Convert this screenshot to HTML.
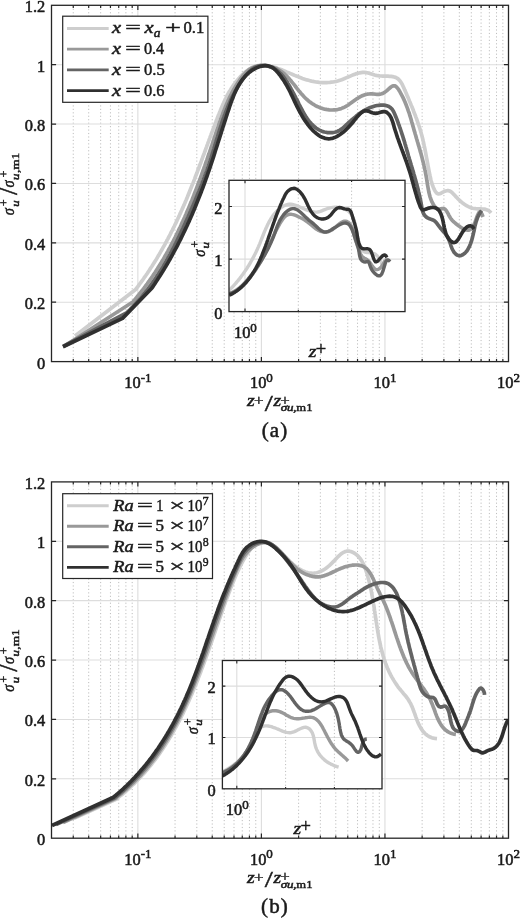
<!DOCTYPE html>
<html><head><meta charset="utf-8"><title>Figure</title>
<style>
html,body{margin:0;padding:0;background:#fff}
body{width:520px;height:923px;overflow:hidden}
svg{display:block}
text{font-family:"Liberation Serif","DejaVu Serif",serif;fill:#1a1a1a}
text{stroke:#1a1a1a;stroke-width:0.45px}
text.it{stroke-width:0.5px}
.tk{stroke-width:0.55px}
.tk{font-size:16.4px}
.L{font-size:17px}
.S{font-size:12px}
.lg{font-size:16px}
.cap{font-size:21px;letter-spacing:1.1px;stroke-width:0.5px}
.it{font-style:italic}
.sub{font-size:12px}
</style></head><body>
<svg width="520" height="923" viewBox="0 0 520 923">
<rect width="520" height="923" fill="#fff"/>
<line x1="73.26" y1="5.3" x2="73.26" y2="361.6" stroke="#bdbdbd" stroke-width="1" stroke-dasharray="1.15 2.3"/>
<line x1="88.69" y1="5.3" x2="88.69" y2="361.6" stroke="#bdbdbd" stroke-width="1" stroke-dasharray="1.15 2.3"/>
<line x1="100.66" y1="5.3" x2="100.66" y2="361.6" stroke="#bdbdbd" stroke-width="1" stroke-dasharray="1.15 2.3"/>
<line x1="110.45" y1="5.3" x2="110.45" y2="361.6" stroke="#bdbdbd" stroke-width="1" stroke-dasharray="1.15 2.3"/>
<line x1="118.72" y1="5.3" x2="118.72" y2="361.6" stroke="#bdbdbd" stroke-width="1" stroke-dasharray="1.15 2.3"/>
<line x1="125.88" y1="5.3" x2="125.88" y2="361.6" stroke="#bdbdbd" stroke-width="1" stroke-dasharray="1.15 2.3"/>
<line x1="132.2" y1="5.3" x2="132.2" y2="361.6" stroke="#bdbdbd" stroke-width="1" stroke-dasharray="1.15 2.3"/>
<line x1="175.05" y1="5.3" x2="175.05" y2="361.6" stroke="#bdbdbd" stroke-width="1" stroke-dasharray="1.15 2.3"/>
<line x1="196.8" y1="5.3" x2="196.8" y2="361.6" stroke="#bdbdbd" stroke-width="1" stroke-dasharray="1.15 2.3"/>
<line x1="212.24" y1="5.3" x2="212.24" y2="361.6" stroke="#bdbdbd" stroke-width="1" stroke-dasharray="1.15 2.3"/>
<line x1="224.21" y1="5.3" x2="224.21" y2="361.6" stroke="#bdbdbd" stroke-width="1" stroke-dasharray="1.15 2.3"/>
<line x1="234" y1="5.3" x2="234" y2="361.6" stroke="#bdbdbd" stroke-width="1" stroke-dasharray="1.15 2.3"/>
<line x1="242.27" y1="5.3" x2="242.27" y2="361.6" stroke="#bdbdbd" stroke-width="1" stroke-dasharray="1.15 2.3"/>
<line x1="249.43" y1="5.3" x2="249.43" y2="361.6" stroke="#bdbdbd" stroke-width="1" stroke-dasharray="1.15 2.3"/>
<line x1="255.75" y1="5.3" x2="255.75" y2="361.6" stroke="#bdbdbd" stroke-width="1" stroke-dasharray="1.15 2.3"/>
<line x1="298.6" y1="5.3" x2="298.6" y2="361.6" stroke="#bdbdbd" stroke-width="1" stroke-dasharray="1.15 2.3"/>
<line x1="320.35" y1="5.3" x2="320.35" y2="361.6" stroke="#bdbdbd" stroke-width="1" stroke-dasharray="1.15 2.3"/>
<line x1="335.79" y1="5.3" x2="335.79" y2="361.6" stroke="#bdbdbd" stroke-width="1" stroke-dasharray="1.15 2.3"/>
<line x1="347.76" y1="5.3" x2="347.76" y2="361.6" stroke="#bdbdbd" stroke-width="1" stroke-dasharray="1.15 2.3"/>
<line x1="357.54" y1="5.3" x2="357.54" y2="361.6" stroke="#bdbdbd" stroke-width="1" stroke-dasharray="1.15 2.3"/>
<line x1="365.81" y1="5.3" x2="365.81" y2="361.6" stroke="#bdbdbd" stroke-width="1" stroke-dasharray="1.15 2.3"/>
<line x1="372.98" y1="5.3" x2="372.98" y2="361.6" stroke="#bdbdbd" stroke-width="1" stroke-dasharray="1.15 2.3"/>
<line x1="379.3" y1="5.3" x2="379.3" y2="361.6" stroke="#bdbdbd" stroke-width="1" stroke-dasharray="1.15 2.3"/>
<line x1="422.14" y1="5.3" x2="422.14" y2="361.6" stroke="#bdbdbd" stroke-width="1" stroke-dasharray="1.15 2.3"/>
<line x1="443.9" y1="5.3" x2="443.9" y2="361.6" stroke="#bdbdbd" stroke-width="1" stroke-dasharray="1.15 2.3"/>
<line x1="459.34" y1="5.3" x2="459.34" y2="361.6" stroke="#bdbdbd" stroke-width="1" stroke-dasharray="1.15 2.3"/>
<line x1="471.31" y1="5.3" x2="471.31" y2="361.6" stroke="#bdbdbd" stroke-width="1" stroke-dasharray="1.15 2.3"/>
<line x1="481.09" y1="5.3" x2="481.09" y2="361.6" stroke="#bdbdbd" stroke-width="1" stroke-dasharray="1.15 2.3"/>
<line x1="489.36" y1="5.3" x2="489.36" y2="361.6" stroke="#bdbdbd" stroke-width="1" stroke-dasharray="1.15 2.3"/>
<line x1="496.53" y1="5.3" x2="496.53" y2="361.6" stroke="#bdbdbd" stroke-width="1" stroke-dasharray="1.15 2.3"/>
<line x1="502.85" y1="5.3" x2="502.85" y2="361.6" stroke="#bdbdbd" stroke-width="1" stroke-dasharray="1.15 2.3"/>
<line x1="137.86" y1="5.3" x2="137.86" y2="361.6" stroke="#dddddd" stroke-width="1.1"/>
<line x1="261.4" y1="5.3" x2="261.4" y2="361.6" stroke="#dddddd" stroke-width="1.1"/>
<line x1="384.95" y1="5.3" x2="384.95" y2="361.6" stroke="#dddddd" stroke-width="1.1"/>
<line x1="51.5" y1="302.22" x2="508.5" y2="302.22" stroke="#dddddd" stroke-width="1.1"/>
<line x1="51.5" y1="242.83" x2="508.5" y2="242.83" stroke="#dddddd" stroke-width="1.1"/>
<line x1="51.5" y1="183.45" x2="508.5" y2="183.45" stroke="#dddddd" stroke-width="1.1"/>
<line x1="51.5" y1="124.07" x2="508.5" y2="124.07" stroke="#dddddd" stroke-width="1.1"/>
<line x1="51.5" y1="64.68" x2="508.5" y2="64.68" stroke="#dddddd" stroke-width="1.1"/>
<clipPath id="clipa"><rect x="51.5" y="5.3" width="457" height="356.3"/></clipPath>
<g clip-path="url(#clipa)">
<path d="M75 336L136.3 289L136.0 288.9L137.0 287.6L138.0 286.3L139.0 285.0L139.9 283.7L140.9 282.4L141.8 281.1L142.8 279.8L143.7 278.5L144.6 277.1L145.6 275.8L146.5 274.5L147.4 273.2L148.3 271.8L149.2 270.5L150.0 269.1L150.9 267.8L151.8 266.5L152.7 265.1L153.5 263.7L154.4 262.4L155.2 261.0L156.1 259.7L156.9 258.3L157.7 256.9L158.5 255.5L159.3 254.2L160.1 252.8L160.9 251.4L161.7 250.0L162.5 248.6L163.3 247.2L164.1 245.8L164.9 244.4L165.6 243.0L166.4 241.6L167.1 240.2L167.9 238.8L168.6 237.4L169.4 236.0L170.1 234.6L170.8 233.1L171.5 231.7L172.3 230.3L173.0 228.8L173.7 227.4L174.4 226.0L175.1 224.5L175.8 223.1L176.5 221.7L177.1 220.2L177.8 218.8L178.5 217.3L179.2 215.9L179.8 214.4L180.5 212.9L181.1 211.5L181.8 210.0L182.4 208.6L183.1 207.1L183.7 205.6L184.4 204.1L185.0 202.7L185.6 201.2L186.3 199.7L186.9 198.2L187.5 196.8L188.1 195.3L188.7 193.8L189.3 192.3L189.9 190.8L190.5 189.3L191.1 187.8L191.7 186.3L192.3 184.8L192.9 183.4L193.5 181.9L194.1 180.4L194.7 178.8L195.2 177.3L195.8 175.8L196.4 174.3L197.0 172.8L197.5 171.3L198.1 169.8L198.7 168.3L199.2 166.8L199.8 165.3L200.4 163.8L200.9 162.3L201.5 160.7L202.0 159.2L202.6 157.7L203.1 156.2L203.7 154.7L204.3 153.2L204.8 151.7L205.4 150.2L205.9 148.6L206.5 147.1L207.0 145.6L207.6 144.1L208.1 142.6L208.7 141.1L209.2 139.6L209.8 138.1L210.3 136.6L210.9 135.1L211.4 133.6L212.0 132.1L212.6 130.6L213.1 129.1L213.7 127.6L214.3 126.2L214.8 124.7L215.4 123.2L216.0 121.7L216.5 120.2L217.1 118.8L217.7 117.3L218.2 115.8L218.8 114.4L219.4 112.9L220.0 111.5L220.6 110.0L221.2 108.6L221.8 107.1L222.4 105.7L223.0 104.3L223.7 102.8L224.3 101.4L225.0 100.0L225.7 98.6L226.4 97.1L227.1 95.7L227.8 94.3L228.6 92.9L229.4 91.5L230.3 90.2L231.1 88.8L232.0 87.4L232.9 86.0L233.9 84.6L234.9 83.3L235.9 81.9L237.0 80.6L238.2 79.2L239.3 77.9L240.5 76.6L241.8 75.3L243.0 74.0L244.3 72.8L245.7 71.7L247.0 70.7L248.4 69.7L249.7 68.8L251.1 68.0L252.6 67.3L254.0 66.8L255.4 66.3L256.8 65.9L258.3 65.6L259.7 65.4L261.2 65.3L262.7 65.3L264.2 65.3L265.6 65.4L267.1 65.6L268.6 65.9L270.1 66.2L271.7 66.5L273.2 66.9L274.7 67.4L276.2 67.8L277.8 68.4L279.3 68.9L280.8 69.5L282.4 70.1L283.9 70.8L285.4 71.4L287.0 72.1L288.5 72.7L290.1 73.4L291.6 74.1L293.2 74.7L294.7 75.4L296.2 76.0L297.8 76.6L299.3 77.2L300.8 77.8L302.4 78.4L303.9 78.9L305.4 79.4L307.0 79.9L308.5 80.3L310.0 80.7L311.5 81.1L313.1 81.4L314.6 81.7L316.1 82.0L317.6 82.2L319.2 82.4L320.7 82.5L322.2 82.6L323.7 82.7L325.3 82.7L326.8 82.6L328.4 82.5L329.9 82.4L331.4 82.2L333.0 82.0L334.5 81.7L336.1 81.4L337.7 81.0L339.2 80.5L340.8 80.0L342.4 79.4L344.0 78.8L345.5 78.1L347.1 77.4L348.7 76.8L350.3 76.1L351.9 75.4L353.4 74.8L355.0 74.2L356.6 73.6L358.1 73.2L359.7 72.8L361.2 72.6L362.7 72.4L364.2 72.4L365.7 72.5L367.2 72.8L368.7 73.1L370.1 73.6L371.6 74.0L373.1 74.5L374.6 75.0L376.2 75.4L377.8 75.7L379.5 75.9L381.1 76.0L382.8 76.1L384.5 76.1L386.2 76.1L387.9 76.2L389.6 76.3L391.2 76.4L392.7 76.6L394.2 77.0L395.6 77.4L396.9 78.1L398.1 78.9L399.1 79.9L400.1 81.0L401.0 82.3L401.8 83.7L402.6 85.2L403.3 86.7L404.0 88.3L404.7 89.9L405.4 91.4L406.1 93.0L406.7 94.6L407.4 96.1L408.1 97.6L408.7 99.2L409.3 100.7L410.0 102.2L410.6 103.7L411.2 105.2L411.9 106.7L412.5 108.2L413.1 109.7L413.6 111.2L414.2 112.7L414.8 114.2L415.4 115.7L415.9 117.1L416.5 118.6L417.0 120.1L417.5 121.6L418.0 123.1L418.5 124.6L419.0 126.0L419.5 127.5L420.0 129.0L420.4 130.5L420.9 132.0L421.3 133.6L421.7 135.1L422.1 136.6L422.5 138.1L422.9 139.7L423.2 141.2L423.6 142.8L423.9 144.3L424.2 145.9L424.6 147.5L424.9 149.1L425.2 150.6L425.5 152.2L425.8 153.8L426.1 155.4L426.4 157.0L426.7 158.6L427.0 160.2L427.3 161.8L427.6 163.4L427.9 165.0L428.2 166.6L428.5 168.2L428.8 169.8L429.1 171.4L429.4 173.0L429.8 174.6L430.1 176.2L430.5 177.8L430.8 179.4L431.2 181.0L431.7 182.6L432.1 184.2L432.7 185.7L433.2 187.2L433.9 188.7L434.6 190.1L435.4 191.5L436.3 192.7L437.3 193.5L438.5 193.9L439.7 193.7L441.1 193.2L442.5 192.4L444.0 191.6L445.6 191.0L447.1 190.7L448.6 190.7L450.0 191.1L451.2 191.8L452.4 192.9L453.5 194.1L454.7 195.3L455.8 196.6L457.0 197.8L458.1 199.0L459.3 200.1L460.5 201.2L461.8 202.3L463.0 203.3L464.3 204.2L465.6 205.1L467.0 205.9L468.4 206.6L469.8 207.2L471.2 207.8L472.7 208.2L474.3 208.5L475.9 208.7L477.5 208.8L479.2 208.9L480.8 208.9L482.5 209.0L484.1 209.1L485.7 209.4L487.2 209.9L488.6 210.6L489.9 211.6L491.0 213.0" fill="none" stroke="#cecece" stroke-width="3.7" stroke-linejoin="round" stroke-linecap="butt"/>
<path d="M66 345L132 302.5L132.2 302.7L133.3 301.5L134.3 300.2L135.4 299.0L136.4 297.8L137.4 296.5L138.4 295.3L139.4 294.0L140.4 292.8L141.4 291.5L142.4 290.3L143.4 289.0L144.3 287.7L145.3 286.4L146.2 285.1L147.2 283.8L148.1 282.5L149.1 281.2L150.0 279.9L150.9 278.6L151.8 277.3L152.7 276.0L153.6 274.6L154.5 273.3L155.4 272.0L156.2 270.6L157.1 269.3L157.9 267.9L158.8 266.6L159.6 265.2L160.5 263.8L161.3 262.5L162.1 261.1L163.0 259.7L163.8 258.3L164.6 256.9L165.4 255.5L166.2 254.1L167.0 252.7L167.8 251.3L168.5 249.9L169.3 248.5L170.1 247.1L170.8 245.7L171.6 244.3L172.3 242.8L173.1 241.4L173.8 240.0L174.5 238.6L175.3 237.1L176.0 235.7L176.7 234.2L177.4 232.8L178.1 231.4L178.8 229.9L179.5 228.4L180.2 227.0L180.9 225.5L181.5 224.1L182.2 222.6L182.9 221.1L183.5 219.7L184.2 218.2L184.9 216.7L185.5 215.3L186.2 213.8L186.8 212.3L187.4 210.8L188.1 209.4L188.7 207.9L189.3 206.4L189.9 204.9L190.5 203.4L191.2 201.9L191.8 200.5L192.4 199.0L193.0 197.5L193.6 196.0L194.1 194.5L194.7 193.0L195.3 191.5L195.9 190.0L196.5 188.5L197.0 187.0L197.6 185.5L198.2 184.0L198.7 182.5L199.3 181.0L199.9 179.5L200.4 178.0L201.0 176.5L201.5 175.0L202.1 173.5L202.6 172.0L203.1 170.4L203.7 168.9L204.2 167.4L204.8 165.9L205.3 164.4L205.8 162.9L206.3 161.4L206.9 159.9L207.4 158.3L207.9 156.8L208.4 155.3L209.0 153.8L209.5 152.3L210.0 150.8L210.5 149.3L211.0 147.7L211.5 146.2L212.1 144.7L212.6 143.2L213.1 141.7L213.6 140.1L214.1 138.6L214.6 137.1L215.1 135.6L215.6 134.1L216.1 132.5L216.6 131.0L217.1 129.5L217.7 128.0L218.2 126.5L218.7 124.9L219.2 123.4L219.7 121.9L220.3 120.4L220.8 118.9L221.4 117.4L221.9 115.9L222.5 114.4L223.0 112.9L223.6 111.4L224.2 109.9L224.8 108.4L225.4 106.9L226.0 105.4L226.6 104.0L227.3 102.5L227.9 101.0L228.6 99.6L229.3 98.1L230.0 96.7L230.7 95.2L231.5 93.8L232.2 92.3L233.0 90.9L233.8 89.5L234.6 88.1L235.4 86.7L236.2 85.3L237.1 83.9L238.0 82.5L238.9 81.2L239.9 79.8L240.8 78.5L241.8 77.1L242.8 75.8L243.9 74.6L245.0 73.4L246.1 72.2L247.3 71.1L248.5 70.1L249.8 69.2L251.2 68.4L252.6 67.7L254.0 67.1L255.5 66.6L257.1 66.2L258.6 66.0L260.2 65.8L261.8 65.6L263.5 65.6L265.1 65.7L266.7 65.9L268.4 66.1L270.0 66.4L271.6 66.9L273.1 67.3L274.7 67.9L276.2 68.5L277.6 69.2L279.0 70.0L280.4 70.9L281.7 71.8L282.9 72.7L284.1 73.7L285.3 74.8L286.5 75.9L287.6 77.0L288.7 78.2L289.7 79.4L290.8 80.6L291.8 81.9L292.8 83.1L293.9 84.4L294.9 85.7L295.9 87.0L296.9 88.3L297.9 89.6L298.9 90.9L300.0 92.1L301.0 93.4L302.1 94.6L303.2 95.8L304.3 97.0L305.5 98.2L306.6 99.3L307.9 100.3L309.1 101.4L310.4 102.3L311.7 103.3L313.1 104.2L314.5 105.0L315.9 105.8L317.3 106.5L318.8 107.1L320.2 107.7L321.7 108.2L323.2 108.7L324.7 109.1L326.2 109.4L327.8 109.7L329.3 109.9L330.8 110.0L332.4 110.0L333.9 109.9L335.5 109.8L337.0 109.6L338.5 109.3L340.0 108.9L341.5 108.4L343.0 107.8L344.5 107.1L345.9 106.4L347.4 105.5L348.8 104.6L350.2 103.6L351.6 102.6L353.0 101.6L354.4 100.6L355.8 99.6L357.2 98.6L358.6 97.7L360.0 96.9L361.4 96.2L362.8 95.5L364.3 95.0L365.7 94.5L367.3 94.2L368.8 94.0L370.4 93.9L372.0 93.9L373.6 94.0L375.3 94.2L376.9 94.3L378.6 94.3L380.1 94.1L381.7 93.8L383.2 93.2L384.6 92.4L385.9 91.4L387.2 90.3L388.5 89.1L389.8 88.0L391.0 87.0L392.3 86.2L393.4 85.8L394.6 85.8L395.7 86.3L396.7 87.2L397.7 88.4L398.7 89.7L399.6 91.2L400.5 92.8L401.3 94.3L402.1 95.8L402.9 97.4L403.6 98.9L404.3 100.4L405.0 102.0L405.6 103.5L406.2 105.0L406.8 106.6L407.4 108.1L407.9 109.6L408.4 111.1L409.0 112.7L409.5 114.2L409.9 115.7L410.4 117.2L410.9 118.8L411.3 120.3L411.7 121.8L412.2 123.3L412.6 124.9L413.0 126.4L413.5 127.9L413.9 129.4L414.3 130.9L414.8 132.4L415.2 134.0L415.7 135.5L416.1 137.0L416.5 138.5L417.0 140.0L417.4 141.5L417.9 143.0L418.3 144.6L418.8 146.1L419.2 147.6L419.7 149.1L420.1 150.7L420.5 152.2L421.0 153.7L421.4 155.3L421.8 156.8L422.2 158.4L422.6 159.9L423.0 161.5L423.4 163.1L423.8 164.7L424.1 166.2L424.5 167.8L424.8 169.4L425.2 171.0L425.5 172.7L425.8 174.3L426.1 175.9L426.4 177.6L426.7 179.2L426.9 180.9L427.2 182.5L427.4 184.2L427.7 185.8L428.0 187.5L428.3 189.1L428.6 190.7L428.9 192.3L429.3 193.9L429.7 195.5L430.1 197.0L430.6 198.5L431.2 199.9L431.7 201.3L432.4 202.7L433.1 204.0L433.9 205.3L434.8 206.5L435.7 207.7L436.8 208.6L438.0 209.1L439.3 209.1L440.8 208.8L442.2 208.6L443.5 208.6L444.7 209.0L445.6 209.8L446.5 210.9L447.3 212.3L448.1 213.7L448.9 215.3L449.7 216.8L450.6 218.2L451.5 219.5L452.6 220.7L453.8 221.9L455.0 222.9L456.3 224.0L457.6 225.0L459.0 226.1L460.4 227.1L461.9 228.0L463.4 228.9L464.8 229.6L466.3 230.0L467.7 230.2L469.0 230.1L470.2 229.6L471.3 228.8L472.3 227.7L473.2 226.3L474.0 224.6L474.8 222.8L475.5 220.9L476.2 218.9L476.9 217.0L477.6 215.2L478.3 213.7L479.0 212.6L479.7 212.1L480.4 212.1L481.2 212.9L482.1 214.5L483.0 217.0" fill="none" stroke="#999999" stroke-width="3.7" stroke-linejoin="round" stroke-linecap="butt"/>
<path d="M63 346.5L126 313.2L126.1 313.3L127.3 312.2L128.4 311.1L129.6 310.0L130.7 308.8L131.9 307.7L133.0 306.5L134.1 305.4L135.2 304.2L136.3 303.0L137.4 301.8L138.5 300.6L139.5 299.4L140.6 298.2L141.6 297.0L142.6 295.7L143.6 294.5L144.6 293.3L145.6 292.0L146.6 290.7L147.6 289.5L148.6 288.2L149.5 286.9L150.5 285.6L151.4 284.3L152.3 283.0L153.2 281.7L154.2 280.4L155.1 279.1L156.0 277.8L156.8 276.4L157.7 275.1L158.6 273.8L159.4 272.4L160.3 271.1L161.1 269.7L162.0 268.3L162.8 267.0L163.6 265.6L164.4 264.2L165.3 262.8L166.1 261.4L166.9 260.0L167.6 258.6L168.4 257.2L169.2 255.8L170.0 254.4L170.7 253.0L171.5 251.6L172.2 250.2L173.0 248.7L173.7 247.3L174.5 245.9L175.2 244.4L175.9 243.0L176.6 241.6L177.3 240.1L178.0 238.7L178.7 237.2L179.4 235.8L180.1 234.3L180.8 232.9L181.5 231.4L182.2 229.9L182.9 228.5L183.5 227.0L184.2 225.5L184.9 224.1L185.5 222.6L186.2 221.1L186.9 219.7L187.5 218.2L188.2 216.7L188.8 215.2L189.5 213.8L190.1 212.3L190.8 210.8L191.4 209.3L192.0 207.9L192.7 206.4L193.3 204.9L193.9 203.4L194.5 202.0L195.2 200.5L195.8 199.0L196.4 197.5L197.0 196.0L197.6 194.5L198.2 193.1L198.8 191.6L199.4 190.1L200.0 188.6L200.6 187.1L201.2 185.6L201.8 184.1L202.3 182.6L202.9 181.1L203.5 179.6L204.0 178.1L204.6 176.6L205.1 175.1L205.7 173.6L206.2 172.1L206.8 170.6L207.3 169.1L207.8 167.6L208.4 166.1L208.9 164.6L209.4 163.0L209.9 161.5L210.4 160.0L210.9 158.5L211.4 157.0L211.9 155.4L212.3 153.9L212.8 152.4L213.3 150.8L213.8 149.3L214.2 147.8L214.7 146.2L215.2 144.7L215.6 143.1L216.1 141.6L216.5 140.1L217.0 138.5L217.5 137.0L217.9 135.5L218.4 133.9L218.9 132.4L219.3 130.9L219.8 129.3L220.3 127.8L220.8 126.3L221.3 124.7L221.8 123.2L222.3 121.7L222.8 120.2L223.3 118.7L223.9 117.1L224.4 115.6L225.0 114.1L225.5 112.6L226.1 111.1L226.7 109.6L227.3 108.2L227.9 106.7L228.5 105.2L229.1 103.7L229.8 102.2L230.4 100.8L231.1 99.3L231.8 97.9L232.5 96.4L233.3 95.0L234.0 93.6L234.8 92.1L235.5 90.7L236.3 89.3L237.2 87.9L238.0 86.5L238.9 85.1L239.7 83.7L240.6 82.4L241.6 81.0L242.5 79.6L243.5 78.3L244.5 77.0L245.5 75.7L246.6 74.4L247.7 73.2L248.8 72.1L250.0 71.0L251.2 70.0L252.4 69.0L253.7 68.2L255.0 67.4L256.4 66.8L257.8 66.3L259.3 65.9L260.9 65.6L262.5 65.5L264.1 65.6L265.7 65.7L267.4 66.0L269.0 66.4L270.7 66.9L272.2 67.5L273.7 68.3L275.1 69.1L276.5 70.0L277.7 70.9L279.0 72.0L280.1 73.1L281.3 74.2L282.3 75.4L283.4 76.7L284.3 78.0L285.3 79.3L286.2 80.7L287.1 82.0L287.9 83.4L288.8 84.8L289.6 86.2L290.4 87.6L291.1 88.9L291.9 90.3L292.6 91.7L293.4 93.1L294.1 94.4L294.8 95.8L295.5 97.2L296.2 98.6L297.0 100.0L297.7 101.4L298.4 102.9L299.1 104.3L299.9 105.8L300.6 107.2L301.4 108.7L302.2 110.2L303.0 111.7L303.8 113.1L304.7 114.6L305.5 116.0L306.4 117.4L307.3 118.7L308.3 120.1L309.3 121.4L310.3 122.6L311.4 123.8L312.5 124.9L313.6 126.0L314.8 127.0L316.0 128.0L317.3 128.9L318.6 129.7L320.0 130.4L321.4 131.0L322.9 131.6L324.4 132.0L326.0 132.3L327.6 132.6L329.2 132.7L330.9 132.7L332.5 132.6L334.2 132.3L335.7 132.0L337.2 131.5L338.7 130.8L340.0 130.0L341.3 129.1L342.6 128.1L343.8 127.1L345.0 126.0L346.2 124.9L347.4 123.8L348.6 122.7L349.8 121.6L351.0 120.5L352.3 119.4L353.5 118.4L354.8 117.3L356.0 116.3L357.3 115.3L358.6 114.3L359.9 113.3L361.2 112.4L362.6 111.5L363.9 110.7L365.3 109.9L366.7 109.1L368.2 108.4L369.6 107.8L371.1 107.2L372.6 106.7L374.1 106.2L375.7 105.8L377.3 105.5L378.9 105.3L380.5 105.1L382.2 105.1L383.8 105.2L385.3 105.4L386.8 105.7L388.2 106.2L389.5 106.9L390.7 107.8L391.8 108.8L392.7 110.1L393.5 111.5L394.2 112.9L394.9 114.5L395.5 116.1L396.2 117.6L396.8 119.2L397.4 120.7L398.0 122.3L398.5 123.8L399.1 125.4L399.6 126.9L400.2 128.5L400.7 130.0L401.2 131.5L401.7 133.1L402.2 134.6L402.7 136.1L403.2 137.7L403.6 139.2L404.1 140.7L404.6 142.3L405.0 143.8L405.5 145.3L405.9 146.8L406.4 148.4L406.8 149.9L407.2 151.4L407.7 152.9L408.1 154.5L408.5 156.0L409.0 157.5L409.4 159.0L409.9 160.5L410.3 162.1L410.8 163.6L411.2 165.1L411.7 166.6L412.1 168.2L412.6 169.7L413.0 171.2L413.5 172.7L413.9 174.3L414.4 175.8L414.8 177.3L415.2 178.9L415.7 180.4L416.1 182.0L416.5 183.5L416.9 185.1L417.4 186.7L417.8 188.2L418.2 189.8L418.5 191.4L418.9 193.0L419.3 194.6L419.7 196.2L420.0 197.8L420.3 199.4L420.7 201.0L421.0 202.7L421.3 204.3L421.6 206.0L421.8 207.6L422.2 209.2L422.5 210.8L423.0 212.3L423.6 213.7L424.4 215.0L425.3 216.1L426.4 217.1L427.6 217.9L428.9 218.5L430.3 219.0L431.6 219.4L432.9 219.9L434.1 220.6L435.2 221.4L436.2 222.5L437.1 223.6L438.0 224.9L438.9 226.1L439.9 227.4L440.8 228.6L441.9 229.8L442.9 231.0L444.0 232.2L445.0 233.4L446.0 234.6L446.9 235.9L447.7 237.2L448.4 238.6L449.1 240.1L449.6 241.6L450.2 243.2L450.7 244.8L451.2 246.3L451.8 247.9L452.5 249.5L453.3 251.0L454.2 252.4L455.3 253.6L456.4 254.6L457.7 255.3L459.0 255.6L460.4 255.6L461.8 255.2L463.1 254.5L464.4 253.6L465.5 252.5L466.6 251.3L467.6 249.9L468.4 248.4L469.2 246.9L469.9 245.3L470.6 243.6L471.1 242.0L471.7 240.4L472.1 238.8L472.5 237.2L472.9 235.6L473.3 234.0L473.6 232.4L474.0 230.9L474.3 229.3L474.6 227.8L474.9 226.2L475.3 224.7L475.7 223.2L476.1 221.7L476.6 220.3L477.1 218.8L477.6 217.4L478.3 216.0L479.0 214.6L479.8 213.3L480.6 211.9L481.6 210.6" fill="none" stroke="#646464" stroke-width="3.7" stroke-linejoin="round" stroke-linecap="butt"/>
<path d="M63 346.75L122.5 318.4L152 288L152.0 287.9L152.9 286.6L153.8 285.3L154.7 284.0L155.6 282.6L156.4 281.3L157.3 280.0L158.2 278.6L159.0 277.3L159.9 276.0L160.8 274.6L161.6 273.3L162.4 271.9L163.3 270.5L164.1 269.2L164.9 267.8L165.8 266.4L166.6 265.0L167.4 263.7L168.2 262.3L169.0 260.9L169.8 259.5L170.6 258.1L171.4 256.7L172.1 255.3L172.9 253.9L173.7 252.4L174.4 251.0L175.2 249.6L176.0 248.2L176.7 246.8L177.5 245.3L178.2 243.9L178.9 242.5L179.7 241.0L180.4 239.6L181.1 238.1L181.8 236.7L182.5 235.2L183.2 233.8L183.9 232.3L184.6 230.9L185.3 229.4L186.0 227.9L186.7 226.5L187.4 225.0L188.0 223.5L188.7 222.1L189.4 220.6L190.0 219.1L190.7 217.6L191.3 216.2L192.0 214.7L192.6 213.2L193.2 211.7L193.9 210.2L194.5 208.7L195.1 207.3L195.7 205.8L196.3 204.3L196.9 202.8L197.5 201.3L198.1 199.8L198.7 198.3L199.3 196.8L199.9 195.3L200.5 193.8L201.1 192.3L201.6 190.8L202.2 189.3L202.8 187.8L203.3 186.3L203.9 184.8L204.4 183.3L205.0 181.8L205.5 180.3L206.0 178.8L206.6 177.3L207.1 175.8L207.6 174.3L208.1 172.8L208.7 171.3L209.2 169.8L209.7 168.3L210.2 166.8L210.7 165.3L211.2 163.8L211.7 162.3L212.2 160.8L212.7 159.3L213.2 157.8L213.7 156.3L214.2 154.7L214.7 153.2L215.1 151.7L215.6 150.2L216.1 148.7L216.6 147.2L217.1 145.7L217.6 144.1L218.0 142.6L218.5 141.1L219.0 139.6L219.5 138.1L220.0 136.5L220.5 135.0L221.0 133.5L221.4 131.9L221.9 130.4L222.4 128.9L222.9 127.3L223.4 125.8L223.9 124.2L224.4 122.7L224.9 121.1L225.4 119.6L225.9 118.0L226.4 116.5L226.9 114.9L227.4 113.3L227.9 111.8L228.5 110.2L229.0 108.6L229.5 107.0L230.0 105.5L230.6 103.9L231.1 102.3L231.7 100.8L232.3 99.2L232.9 97.7L233.5 96.1L234.1 94.6L234.7 93.1L235.4 91.6L236.1 90.2L236.8 88.7L237.5 87.3L238.3 85.9L239.1 84.5L239.9 83.2L240.8 81.9L241.7 80.6L242.6 79.3L243.6 78.1L244.6 76.9L245.6 75.8L246.7 74.7L247.8 73.6L249.0 72.6L250.2 71.7L251.5 70.7L252.8 69.9L254.2 69.1L255.6 68.3L257.1 67.6L258.6 67.0L260.1 66.5L261.6 66.1L263.1 65.9L264.7 65.7L266.2 65.7L267.7 65.9L269.2 66.2L270.6 66.7L272.0 67.4L273.4 68.2L274.7 69.3L275.9 70.4L277.1 71.7L278.3 73.1L279.4 74.5L280.5 75.9L281.5 77.4L282.5 78.8L283.5 80.2L284.4 81.6L285.2 83.1L286.1 84.5L286.9 85.9L287.7 87.3L288.4 88.7L289.2 90.1L289.9 91.5L290.6 92.9L291.2 94.3L291.9 95.7L292.6 97.1L293.2 98.5L293.9 99.9L294.5 101.3L295.2 102.7L295.8 104.1L296.5 105.4L297.2 106.8L297.9 108.2L298.6 109.6L299.3 111.0L300.0 112.4L300.8 113.7L301.6 115.1L302.4 116.5L303.2 117.9L304.1 119.3L305.0 120.7L306.0 122.0L307.0 123.4L308.0 124.8L309.1 126.2L310.2 127.5L311.3 128.8L312.5 130.1L313.7 131.3L315.0 132.4L316.3 133.5L317.6 134.5L318.9 135.5L320.2 136.3L321.6 137.0L323.0 137.6L324.4 138.1L325.8 138.5L327.3 138.7L328.7 138.8L330.2 138.7L331.7 138.5L333.1 138.1L334.6 137.6L336.1 136.9L337.5 136.1L339.0 135.2L340.4 134.3L341.7 133.3L343.1 132.2L344.4 131.2L345.6 130.1L346.7 129.0L347.9 127.9L348.9 126.7L350.0 125.6L351.0 124.4L352.1 123.2L353.1 122.0L354.1 120.7L355.2 119.3L356.3 117.9L357.5 116.5L358.7 115.2L359.9 113.9L361.2 112.8L362.5 111.9L363.8 111.2L365.1 110.8L366.5 110.8L368.0 111.1L369.4 111.6L370.9 112.2L372.4 112.8L374.0 113.2L375.6 113.4L377.2 113.2L378.8 112.8L380.4 112.3L382.0 111.9L383.5 111.6L384.9 111.7L386.3 112.1L387.5 113.0L388.7 114.1L389.7 115.3L390.5 116.7L391.3 118.2L391.9 119.7L392.5 121.3L393.0 122.8L393.4 124.4L393.9 126.0L394.3 127.6L394.8 129.1L395.3 130.7L395.8 132.2L396.3 133.8L396.8 135.3L397.3 136.8L397.8 138.4L398.4 139.9L398.9 141.4L399.4 142.9L400.0 144.4L400.5 145.9L401.1 147.4L401.6 148.9L402.2 150.4L402.7 151.8L403.3 153.3L403.8 154.8L404.4 156.3L404.9 157.8L405.5 159.3L406.0 160.8L406.6 162.3L407.1 163.8L407.6 165.3L408.1 166.8L408.6 168.4L409.1 169.9L409.6 171.4L410.1 173.0L410.6 174.6L411.0 176.1L411.5 177.7L411.9 179.3L412.3 180.9L412.8 182.4L413.2 184.0L413.6 185.6L414.0 187.2L414.5 188.8L414.9 190.4L415.4 191.9L415.8 193.5L416.3 195.0L416.7 196.6L417.2 198.1L417.7 199.6L418.2 201.1L418.7 202.6L419.3 204.1L419.8 205.5L420.4 207.0L421.1 208.3L421.8 209.3L422.8 209.8L424.1 209.7L425.5 209.3L427.0 208.7L428.7 208.1L430.4 207.7L432.0 207.5L433.6 207.5L435.1 207.8L436.4 208.3L437.6 209.1L438.6 210.0L439.5 211.2L440.2 212.5L440.9 213.9L441.5 215.5L442.0 217.1L442.5 218.8L442.9 220.6L443.3 222.4L443.6 224.1L444.0 225.9L444.3 227.6L444.7 229.2L445.1 230.8L445.5 232.4L446.0 233.9L446.6 235.3L447.4 236.7L448.2 238.0L449.2 239.4L450.3 240.6L451.6 241.6L452.8 242.3L454.1 242.6L455.3 242.2L456.4 241.4L457.4 240.3L458.5 238.9L459.4 237.3L460.4 235.7L461.3 234.1L462.2 232.6L463.1 231.2L464.1 229.8L465.2 228.6L466.3 227.5L467.6 226.6L468.9 226.0L470.3 225.8L471.6 226.2L472.9 227.2L474.0 228.9" fill="none" stroke="#303030" stroke-width="3.7" stroke-linejoin="round" stroke-linecap="butt"/>
</g>
<path d="M73.26 361.6v-2.6M73.26 5.3v2.6M88.69 361.6v-2.6M88.69 5.3v2.6M100.66 361.6v-2.6M100.66 5.3v2.6M110.45 361.6v-2.6M110.45 5.3v2.6M118.72 361.6v-2.6M118.72 5.3v2.6M125.88 361.6v-2.6M125.88 5.3v2.6M132.2 361.6v-2.6M132.2 5.3v2.6M175.05 361.6v-2.6M175.05 5.3v2.6M196.8 361.6v-2.6M196.8 5.3v2.6M212.24 361.6v-2.6M212.24 5.3v2.6M224.21 361.6v-2.6M224.21 5.3v2.6M234 361.6v-2.6M234 5.3v2.6M242.27 361.6v-2.6M242.27 5.3v2.6M249.43 361.6v-2.6M249.43 5.3v2.6M255.75 361.6v-2.6M255.75 5.3v2.6M298.6 361.6v-2.6M298.6 5.3v2.6M320.35 361.6v-2.6M320.35 5.3v2.6M335.79 361.6v-2.6M335.79 5.3v2.6M347.76 361.6v-2.6M347.76 5.3v2.6M357.54 361.6v-2.6M357.54 5.3v2.6M365.81 361.6v-2.6M365.81 5.3v2.6M372.98 361.6v-2.6M372.98 5.3v2.6M379.3 361.6v-2.6M379.3 5.3v2.6M422.14 361.6v-2.6M422.14 5.3v2.6M443.9 361.6v-2.6M443.9 5.3v2.6M459.34 361.6v-2.6M459.34 5.3v2.6M471.31 361.6v-2.6M471.31 5.3v2.6M481.09 361.6v-2.6M481.09 5.3v2.6M489.36 361.6v-2.6M489.36 5.3v2.6M496.53 361.6v-2.6M496.53 5.3v2.6M502.85 361.6v-2.6M502.85 5.3v2.6M137.86 361.6v-4.6M137.86 5.3v4.6M261.4 361.6v-4.6M261.4 5.3v4.6M384.95 361.6v-4.6M384.95 5.3v4.6M51.5 302.22h4.6M508.5 302.22h-4.6M51.5 242.83h4.6M508.5 242.83h-4.6M51.5 183.45h4.6M508.5 183.45h-4.6M51.5 124.07h4.6M508.5 124.07h-4.6M51.5 64.68h4.6M508.5 64.68h-4.6" stroke="#262626" stroke-width="1.2" fill="none"/>
<rect x="51.5" y="5.3" width="457" height="356.3" fill="none" stroke="#262626" stroke-width="1.3"/>
<text x="45.2" y="368.6" text-anchor="end" class="tk">0</text>
<text x="45.2" y="309.22" text-anchor="end" class="tk">0.2</text>
<text x="45.2" y="249.83" text-anchor="end" class="tk">0.4</text>
<text x="45.2" y="190.45" text-anchor="end" class="tk">0.6</text>
<text x="45.2" y="131.07" text-anchor="end" class="tk">0.8</text>
<text x="45.2" y="71.68" text-anchor="end" class="tk">1</text>
<text x="45.2" y="12.3" text-anchor="end" class="tk">1.2</text>
<text x="137.86" y="388.1" text-anchor="middle" class="tk">10<tspan dy="-6.4" font-size="13">-1</tspan></text>
<text x="261.4" y="388.1" text-anchor="middle" class="tk">10<tspan dy="-6.4" font-size="13">0</tspan></text>
<text x="384.95" y="388.1" text-anchor="middle" class="tk">10<tspan dy="-6.4" font-size="13">1</tspan></text>
<text x="508.5" y="388.1" text-anchor="middle" class="tk">10<tspan dy="-6.4" font-size="13">2</tspan></text>
<g transform="translate(14.3 214.5) rotate(-90)"><text x="-0.63" y="0" font-size="17" class="it" textLength="7.07" lengthAdjust="spacingAndGlyphs">σ</text><text x="7.76" y="4.3" font-size="10.8" class="it" textLength="6.39" lengthAdjust="spacingAndGlyphs">u</text><text x="8.62" y="-5.97" font-size="11.91" textLength="6.55" lengthAdjust="spacingAndGlyphs">+</text><text x="19.4" y="2.76" font-size="24.48" textLength="7.17" lengthAdjust="spacingAndGlyphs">/</text><text x="27.07" y="0" font-size="17" class="it" textLength="7.07" lengthAdjust="spacingAndGlyphs">σ</text><text x="37.22" y="-5.97" font-size="11.91" textLength="6.55" lengthAdjust="spacingAndGlyphs">+</text><text x="34.56" y="4.3" font-size="10.8" class="it" textLength="6.39" lengthAdjust="spacingAndGlyphs">u</text><text x="41.47" y="4.3" font-size="10.5" textLength="20.3" lengthAdjust="spacingAndGlyphs">,m1</text></g>
<g transform="translate(246.9 406.4)"><text x="0.2" y="0" font-size="17" class="it" textLength="7.68" lengthAdjust="spacingAndGlyphs">z</text><text x="7.15" y="-1.49" font-size="14.89" textLength="9.58" lengthAdjust="spacingAndGlyphs">+</text><text x="17.9" y="4.36" font-size="23.88" textLength="8.08" lengthAdjust="spacingAndGlyphs">/</text><text x="26.5" y="0" font-size="17" class="it" textLength="7.68" lengthAdjust="spacingAndGlyphs">z</text><text x="33.46" y="-1.74" font-size="15.32" textLength="9.46" lengthAdjust="spacingAndGlyphs">+</text><text x="33.81" y="4.9" font-size="10.5" class="it" textLength="12.92" lengthAdjust="spacingAndGlyphs">σu</text><text x="46.3" y="4.9" font-size="10" textLength="19.23" lengthAdjust="spacingAndGlyphs">,m1</text></g>
<text x="275" y="436.6" text-anchor="middle" class="cap">(a)</text>
<rect x="229" y="180.3" width="176" height="131.3" fill="#fff"/>
<line x1="229" y1="259.08" x2="405" y2="259.08" stroke="#dddddd" stroke-width="1.1"/>
<line x1="229" y1="206.56" x2="405" y2="206.56" stroke="#dddddd" stroke-width="1.1"/>
<line x1="245" y1="180.3" x2="245" y2="311.6" stroke="#dddddd" stroke-width="1.1"/>
<line x1="298.3" y1="180.3" x2="298.3" y2="311.6" stroke="#bdbdbd" stroke-width="1" stroke-dasharray="1.15 2.3"/>
<line x1="351.6" y1="180.3" x2="351.6" y2="311.6" stroke="#bdbdbd" stroke-width="1" stroke-dasharray="1.15 2.3"/>
<clipPath id="iclipa"><rect x="229" y="180.3" width="176" height="131.3"/></clipPath>
<g clip-path="url(#iclipa)">
<path d="M229.0 290.5L230.2 289.3L231.3 288.1L232.4 287.0L233.5 285.8L234.6 284.6L235.7 283.4L236.7 282.1L237.8 280.9L238.8 279.6L239.8 278.4L240.8 277.1L241.7 275.8L242.7 274.5L243.6 273.2L244.5 271.9L245.4 270.6L246.3 269.3L247.2 267.9L248.0 266.5L248.9 265.2L249.7 263.8L250.5 262.4L251.3 261.0L252.1 259.6L252.9 258.2L253.6 256.8L254.4 255.4L255.1 253.9L255.8 252.5L256.5 251.0L257.2 249.5L257.8 248.1L258.5 246.6L259.1 245.1L259.8 243.6L260.4 242.1L261.0 240.5L261.6 239.0L262.2 237.5L262.8 236.0L263.4 234.5L264.0 232.9L264.6 231.4L265.3 229.9L265.9 228.4L266.6 227.0L267.3 225.5L268.0 224.1L268.7 222.6L269.5 221.2L270.3 219.8L271.1 218.5L272.0 217.1L272.9 215.8L273.8 214.6L274.9 213.3L275.9 212.1L277.0 211.0L278.2 209.9L279.4 208.8L280.7 207.8L282.0 206.9L283.4 206.1L284.8 205.4L286.3 204.9L287.8 204.5L289.3 204.3L290.8 204.3L292.4 204.5L294.0 204.8L295.6 205.3L297.2 205.9L298.8 206.5L300.4 207.2L302.0 207.9L303.5 208.6L305.1 209.3L306.7 209.9L308.2 210.5L309.8 211.0L311.3 211.5L312.8 211.8L314.4 212.0L315.9 212.1L317.4 212.0L318.9 211.8L320.3 211.4L321.8 210.8L323.3 210.2L324.8 209.6L326.4 209.0L328.0 208.4L329.6 208.0L331.3 207.7L333.0 207.4L334.7 207.3L336.3 207.3L338.0 207.4L339.6 207.6L341.2 207.9L342.8 208.3L344.3 208.8L345.6 209.4L347.0 210.2L348.2 211.0L349.3 212.0L350.2 213.0L351.1 214.1L351.9 215.4L352.6 216.7L353.2 218.1L353.8 219.5L354.3 221.1L354.7 222.6L355.1 224.2L355.5 225.9L355.8 227.6L356.1 229.3L356.5 231.0L356.8 232.7L357.1 234.4L357.4 236.2L357.8 237.9L358.1 239.5L358.6 241.2L359.0 242.8L359.5 244.4L360.1 245.9L360.8 247.4L361.5 248.8L362.4 250.1L363.3 251.2L364.4 252.0L365.7 252.4L367.1 252.6L368.6 252.6L370.2 252.7L371.8 252.9L373.4 253.3L374.9 254.0L376.2 254.9L377.4 256.0L378.5 257.3L379.5 258.7L380.3 260.2L381.0 261.8L381.6 263.3L382.0 264.8L382.4 266.2L382.6 267.5L382.7 268.4L383.1 268.4L384.0 266.5L386.0 262.0" fill="none" stroke="#cecece" stroke-width="3.4" stroke-linejoin="round" stroke-linecap="butt"/>
<path d="M229.2 293.8L230.7 293.1L232.1 292.4L233.5 291.7L234.8 290.9L236.1 290.1L237.5 289.2L238.7 288.3L240.0 287.3L241.2 286.3L242.5 285.3L243.7 284.2L244.8 283.1L246.0 281.9L247.1 280.8L248.2 279.6L249.3 278.3L250.3 277.1L251.3 275.8L252.4 274.5L253.3 273.2L254.3 271.8L255.3 270.5L256.2 269.1L257.1 267.7L258.0 266.3L258.8 264.9L259.7 263.5L260.5 262.1L261.3 260.7L262.1 259.3L262.8 257.9L263.6 256.5L264.3 255.0L265.0 253.6L265.7 252.2L266.4 250.7L267.1 249.3L267.8 247.9L268.5 246.4L269.2 245.0L269.8 243.5L270.5 242.1L271.2 240.7L271.9 239.2L272.6 237.8L273.3 236.3L274.0 234.9L274.7 233.4L275.4 232.0L276.2 230.5L276.9 229.1L277.7 227.7L278.5 226.2L279.3 224.8L280.1 223.3L281.0 221.9L281.9 220.5L282.8 219.1L283.8 217.9L284.9 216.8L286.0 215.8L287.2 215.1L288.5 214.5L290.0 214.3L291.5 214.3L293.2 214.6L294.9 215.2L296.7 215.9L298.4 216.7L300.0 217.5L301.5 218.3L303.0 219.1L304.3 219.9L305.6 220.7L306.8 221.6L308.0 222.5L309.3 223.4L310.5 224.4L311.8 225.5L313.0 226.6L314.4 227.6L315.7 228.7L317.1 229.6L318.5 230.4L319.9 231.1L321.4 231.6L322.9 231.9L324.3 232.1L325.8 232.1L327.3 231.9L328.8 231.5L330.3 230.8L331.8 230.0L333.2 229.0L334.7 227.8L336.1 226.6L337.5 225.4L338.9 224.2L340.3 223.2L341.7 222.2L343.0 221.6L344.3 221.1L345.6 221.1L346.9 221.4L348.1 222.1L349.2 223.1L350.3 224.4L351.2 225.9L352.0 227.3L352.6 228.9L353.2 230.4L353.6 232.0L354.0 233.6L354.4 235.2L354.7 236.8L355.1 238.4L355.5 240.0L356.0 241.5L356.5 243.1L357.0 244.6L357.5 246.1L358.1 247.7L358.7 249.2L359.3 250.8L359.9 252.3L360.5 253.9L361.3 255.3L362.1 256.5L363.2 257.5L364.5 258.3L365.9 258.9L367.2 259.7L368.4 260.7L369.4 261.9L370.5 263.3L371.4 264.7L372.4 266.2L373.5 267.5L374.5 268.6L375.7 269.4L376.9 269.7L378.2 269.4L379.6 268.5L381.2 266.9L382.7 264.8L384.0 262.7L385.0 260.9L385.4 259.9L385.0 260.0" fill="none" stroke="#999999" stroke-width="3.4" stroke-linejoin="round" stroke-linecap="butt"/>
<path d="M229.0 293.5L230.7 293.2L232.3 292.8L233.8 292.2L235.2 291.5L236.6 290.7L237.9 289.8L239.1 288.8L240.3 287.7L241.5 286.6L242.6 285.4L243.7 284.2L244.8 283.0L245.8 281.8L246.9 280.5L247.9 279.3L248.9 278.0L249.9 276.8L250.9 275.5L251.9 274.2L252.9 272.9L253.8 271.6L254.8 270.3L255.7 269.0L256.6 267.7L257.5 266.3L258.4 265.0L259.3 263.7L260.2 262.3L261.0 261.0L261.9 259.6L262.7 258.2L263.5 256.8L264.4 255.5L265.2 254.1L265.9 252.7L266.7 251.2L267.5 249.8L268.2 248.4L268.9 247.0L269.6 245.5L270.3 244.1L271.0 242.6L271.6 241.1L272.3 239.6L272.9 238.2L273.5 236.7L274.0 235.1L274.6 233.6L275.1 232.1L275.6 230.6L276.2 229.1L276.7 227.6L277.3 226.1L277.9 224.6L278.6 223.1L279.3 221.6L280.0 220.2L280.8 218.8L281.7 217.4L282.6 216.1L283.6 214.7L284.7 213.5L285.9 212.2L287.2 211.1L288.5 210.2L289.8 209.4L291.2 208.9L292.6 208.6L294.0 208.6L295.4 209.0L296.8 209.6L298.1 210.4L299.5 211.4L300.8 212.6L302.1 213.8L303.4 215.0L304.7 216.3L306.0 217.5L307.2 218.6L308.3 219.6L309.5 220.6L310.7 221.5L311.8 222.4L313.0 223.4L314.2 224.4L315.4 225.5L316.7 226.7L318.0 228.0L319.4 229.2L320.7 230.3L322.1 231.1L323.4 231.8L324.8 232.0L326.1 232.0L327.5 231.7L328.9 231.1L330.3 230.4L331.8 229.5L333.3 228.5L334.9 227.6L336.5 226.6L338.1 225.6L339.6 224.8L341.2 224.0L342.6 223.4L344.0 223.1L345.4 223.0L346.6 223.2L347.7 223.7L348.7 224.4L349.7 225.4L350.5 226.7L351.3 228.1L352.0 229.6L352.7 231.2L353.3 232.9L353.9 234.7L354.4 236.4L355.0 238.0L355.5 239.6L356.1 241.1L356.6 242.6L357.1 244.0L357.5 245.4L358.0 246.9L358.4 248.4L358.7 250.1L359.0 251.8L359.3 253.7L359.6 255.5L360.0 257.2L360.6 258.8L361.4 260.1L362.4 261.1L363.7 261.8L365.2 262.0L366.7 261.7L367.9 261.5L368.8 262.1L369.4 263.5L369.9 265.2L370.5 266.9L371.1 268.4L371.9 269.9L372.8 271.2L373.9 272.5L375.0 273.7L376.3 274.7L377.5 275.5L378.8 275.8L379.9 275.7L380.9 275.1L381.8 273.9L382.5 272.2L383.2 270.3L383.8 268.3L384.4 266.2L384.9 264.3L385.5 262.5L386.2 261.1L387.0 260.2L387.8 259.9L388.9 260.3L390.1 261.6" fill="none" stroke="#646464" stroke-width="3.4" stroke-linejoin="round" stroke-linecap="butt"/>
<path d="M229.1 295.3L230.6 294.6L232.1 293.9L233.5 293.1L234.9 292.2L236.2 291.3L237.5 290.4L238.8 289.4L240.0 288.4L241.2 287.4L242.4 286.3L243.5 285.2L244.6 284.1L245.7 283.0L246.7 281.8L247.7 280.5L248.7 279.3L249.7 278.0L250.6 276.7L251.5 275.4L252.4 274.1L253.2 272.7L254.1 271.3L254.9 269.9L255.7 268.5L256.4 267.1L257.2 265.7L257.9 264.2L258.6 262.7L259.3 261.3L260.0 259.8L260.6 258.3L261.3 256.8L261.9 255.3L262.5 253.7L263.1 252.2L263.7 250.7L264.3 249.2L264.9 247.7L265.5 246.1L266.0 244.6L266.6 243.1L267.1 241.6L267.7 240.1L268.2 238.5L268.7 237.0L269.3 235.5L269.8 234.0L270.3 232.5L270.8 231.0L271.4 229.5L271.9 228.0L272.4 226.5L272.9 225.0L273.5 223.5L274.0 222.0L274.5 220.5L275.1 219.0L275.6 217.5L276.2 216.0L276.7 214.5L277.3 213.0L277.9 211.5L278.5 210.0L279.1 208.6L279.7 207.1L280.3 205.6L280.9 204.1L281.6 202.6L282.2 201.1L282.9 199.6L283.6 198.2L284.3 196.7L285.0 195.2L285.8 193.8L286.7 192.5L287.8 191.2L289.1 190.1L290.5 189.2L292.1 188.6L293.7 188.3L295.2 188.5L296.7 189.2L298.0 190.1L299.3 191.2L300.4 192.4L301.4 193.6L302.4 194.9L303.2 196.2L304.0 197.5L304.8 198.8L305.5 200.2L306.2 201.7L306.9 203.2L307.6 204.8L308.3 206.3L309.1 207.9L309.9 209.4L310.7 210.9L311.7 212.3L312.6 213.7L313.7 214.9L314.8 216.0L316.0 216.9L317.3 217.7L318.7 218.3L320.1 218.7L321.6 219.0L323.1 219.0L324.5 218.8L326.0 218.4L327.4 217.8L328.7 216.9L330.0 215.8L331.1 214.6L332.2 213.2L333.3 211.8L334.4 210.5L335.6 209.4L336.8 208.4L338.1 207.8L339.5 207.5L341.0 207.7L342.7 208.3L344.4 208.9L346.1 209.2L347.6 209.2L348.9 209.5L350.0 210.3L350.8 211.5L351.4 213.0L352.0 214.7L352.5 216.4L352.9 218.1L353.4 219.6L353.9 221.1L354.3 222.6L354.8 224.1L355.2 225.6L355.6 227.1L356.0 228.6L356.4 230.2L356.7 231.9L357.0 233.6L357.3 235.5L357.6 237.3L357.9 239.2L358.3 241.0L358.7 242.7L359.2 244.2L359.8 245.6L360.5 246.8L361.4 247.8L362.4 248.5L363.6 248.8L365.0 248.9L366.5 248.7L367.8 248.8L369.0 249.1L370.0 249.9L370.9 251.0L371.6 252.6L372.2 254.3L372.8 256.2L373.5 258.1L374.1 259.7L374.8 261.0L375.5 261.8L376.4 261.8L377.5 261.2L378.6 260.1L379.8 258.7L381.1 257.3L382.3 256.0L383.6 255.2L384.8 255.0L385.9 255.7L386.9 257.5" fill="none" stroke="#303030" stroke-width="3.4" stroke-linejoin="round" stroke-linecap="butt"/>
</g>
<path d="M245 311.6v-3M245 180.3v3M298.3 311.6v-1.8M298.3 180.3v1.8M351.6 311.6v-1.8M351.6 180.3v1.8M229 259.08h3M405 259.08h-3M229 206.56h3M405 206.56h-3" stroke="#262626" stroke-width="1.1" fill="none"/>
<rect x="229" y="180.3" width="176" height="131.3" fill="none" stroke="#262626" stroke-width="1.3"/>
<text x="222.4" y="318.6" text-anchor="end" class="tk">0</text>
<text x="222.4" y="266.08" text-anchor="end" class="tk">1</text>
<text x="222.4" y="213.56" text-anchor="end" class="tk">2</text>
<text x="245.4" y="338.1" text-anchor="middle" class="tk">10<tspan dy="-6.4" font-size="13">0</tspan></text>
<g transform="translate(308.5 357)"><text x="0.2" y="0" font-size="17" class="it" textLength="7.68" lengthAdjust="spacingAndGlyphs">z</text><text x="7.28" y="-2.3" font-size="17.87" textLength="10.43" lengthAdjust="spacingAndGlyphs">+</text></g>
<g transform="translate(204.6 256.2) rotate(-90)"><text x="-0.63" y="0" font-size="17" class="it" textLength="7.07" lengthAdjust="spacingAndGlyphs">σ</text><text x="7.76" y="4.3" font-size="10.8" class="it" textLength="6.39" lengthAdjust="spacingAndGlyphs">u</text><text x="8.62" y="-5.97" font-size="11.91" textLength="6.55" lengthAdjust="spacingAndGlyphs">+</text></g>
<line x1="73.26" y1="481.9" x2="73.26" y2="838.2" stroke="#bdbdbd" stroke-width="1" stroke-dasharray="1.15 2.3"/>
<line x1="88.69" y1="481.9" x2="88.69" y2="838.2" stroke="#bdbdbd" stroke-width="1" stroke-dasharray="1.15 2.3"/>
<line x1="100.66" y1="481.9" x2="100.66" y2="838.2" stroke="#bdbdbd" stroke-width="1" stroke-dasharray="1.15 2.3"/>
<line x1="110.45" y1="481.9" x2="110.45" y2="838.2" stroke="#bdbdbd" stroke-width="1" stroke-dasharray="1.15 2.3"/>
<line x1="118.72" y1="481.9" x2="118.72" y2="838.2" stroke="#bdbdbd" stroke-width="1" stroke-dasharray="1.15 2.3"/>
<line x1="125.88" y1="481.9" x2="125.88" y2="838.2" stroke="#bdbdbd" stroke-width="1" stroke-dasharray="1.15 2.3"/>
<line x1="132.2" y1="481.9" x2="132.2" y2="838.2" stroke="#bdbdbd" stroke-width="1" stroke-dasharray="1.15 2.3"/>
<line x1="175.05" y1="481.9" x2="175.05" y2="838.2" stroke="#bdbdbd" stroke-width="1" stroke-dasharray="1.15 2.3"/>
<line x1="196.8" y1="481.9" x2="196.8" y2="838.2" stroke="#bdbdbd" stroke-width="1" stroke-dasharray="1.15 2.3"/>
<line x1="212.24" y1="481.9" x2="212.24" y2="838.2" stroke="#bdbdbd" stroke-width="1" stroke-dasharray="1.15 2.3"/>
<line x1="224.21" y1="481.9" x2="224.21" y2="838.2" stroke="#bdbdbd" stroke-width="1" stroke-dasharray="1.15 2.3"/>
<line x1="234" y1="481.9" x2="234" y2="838.2" stroke="#bdbdbd" stroke-width="1" stroke-dasharray="1.15 2.3"/>
<line x1="242.27" y1="481.9" x2="242.27" y2="838.2" stroke="#bdbdbd" stroke-width="1" stroke-dasharray="1.15 2.3"/>
<line x1="249.43" y1="481.9" x2="249.43" y2="838.2" stroke="#bdbdbd" stroke-width="1" stroke-dasharray="1.15 2.3"/>
<line x1="255.75" y1="481.9" x2="255.75" y2="838.2" stroke="#bdbdbd" stroke-width="1" stroke-dasharray="1.15 2.3"/>
<line x1="298.6" y1="481.9" x2="298.6" y2="838.2" stroke="#bdbdbd" stroke-width="1" stroke-dasharray="1.15 2.3"/>
<line x1="320.35" y1="481.9" x2="320.35" y2="838.2" stroke="#bdbdbd" stroke-width="1" stroke-dasharray="1.15 2.3"/>
<line x1="335.79" y1="481.9" x2="335.79" y2="838.2" stroke="#bdbdbd" stroke-width="1" stroke-dasharray="1.15 2.3"/>
<line x1="347.76" y1="481.9" x2="347.76" y2="838.2" stroke="#bdbdbd" stroke-width="1" stroke-dasharray="1.15 2.3"/>
<line x1="357.54" y1="481.9" x2="357.54" y2="838.2" stroke="#bdbdbd" stroke-width="1" stroke-dasharray="1.15 2.3"/>
<line x1="365.81" y1="481.9" x2="365.81" y2="838.2" stroke="#bdbdbd" stroke-width="1" stroke-dasharray="1.15 2.3"/>
<line x1="372.98" y1="481.9" x2="372.98" y2="838.2" stroke="#bdbdbd" stroke-width="1" stroke-dasharray="1.15 2.3"/>
<line x1="379.3" y1="481.9" x2="379.3" y2="838.2" stroke="#bdbdbd" stroke-width="1" stroke-dasharray="1.15 2.3"/>
<line x1="422.14" y1="481.9" x2="422.14" y2="838.2" stroke="#bdbdbd" stroke-width="1" stroke-dasharray="1.15 2.3"/>
<line x1="443.9" y1="481.9" x2="443.9" y2="838.2" stroke="#bdbdbd" stroke-width="1" stroke-dasharray="1.15 2.3"/>
<line x1="459.34" y1="481.9" x2="459.34" y2="838.2" stroke="#bdbdbd" stroke-width="1" stroke-dasharray="1.15 2.3"/>
<line x1="471.31" y1="481.9" x2="471.31" y2="838.2" stroke="#bdbdbd" stroke-width="1" stroke-dasharray="1.15 2.3"/>
<line x1="481.09" y1="481.9" x2="481.09" y2="838.2" stroke="#bdbdbd" stroke-width="1" stroke-dasharray="1.15 2.3"/>
<line x1="489.36" y1="481.9" x2="489.36" y2="838.2" stroke="#bdbdbd" stroke-width="1" stroke-dasharray="1.15 2.3"/>
<line x1="496.53" y1="481.9" x2="496.53" y2="838.2" stroke="#bdbdbd" stroke-width="1" stroke-dasharray="1.15 2.3"/>
<line x1="502.85" y1="481.9" x2="502.85" y2="838.2" stroke="#bdbdbd" stroke-width="1" stroke-dasharray="1.15 2.3"/>
<line x1="137.86" y1="481.9" x2="137.86" y2="838.2" stroke="#dddddd" stroke-width="1.1"/>
<line x1="261.4" y1="481.9" x2="261.4" y2="838.2" stroke="#dddddd" stroke-width="1.1"/>
<line x1="384.95" y1="481.9" x2="384.95" y2="838.2" stroke="#dddddd" stroke-width="1.1"/>
<line x1="51.5" y1="778.82" x2="508.5" y2="778.82" stroke="#dddddd" stroke-width="1.1"/>
<line x1="51.5" y1="719.43" x2="508.5" y2="719.43" stroke="#dddddd" stroke-width="1.1"/>
<line x1="51.5" y1="660.05" x2="508.5" y2="660.05" stroke="#dddddd" stroke-width="1.1"/>
<line x1="51.5" y1="600.67" x2="508.5" y2="600.67" stroke="#dddddd" stroke-width="1.1"/>
<line x1="51.5" y1="541.28" x2="508.5" y2="541.28" stroke="#dddddd" stroke-width="1.1"/>
<clipPath id="clipb"><rect x="51.5" y="481.9" width="457" height="356.3"/></clipPath>
<g clip-path="url(#clipb)">
<path d="M74 818.2L117.7 798.5L117.1 798.5L118.4 797.4L119.7 796.4L121.0 795.4L122.3 794.3L123.5 793.2L124.8 792.2L126.1 791.1L127.3 790.0L128.5 788.9L129.7 787.8L130.9 786.7L132.1 785.5L133.3 784.4L134.5 783.3L135.6 782.1L136.8 781.0L137.9 779.8L139.0 778.7L140.1 777.5L141.2 776.3L142.3 775.1L143.4 773.9L144.5 772.7L145.5 771.5L146.6 770.3L147.6 769.1L148.6 767.8L149.7 766.6L150.7 765.4L151.7 764.1L152.6 762.8L153.6 761.6L154.6 760.3L155.6 759.0L156.5 757.8L157.5 756.5L158.4 755.2L159.3 753.9L160.2 752.6L161.1 751.3L162.0 749.9L162.9 748.6L163.8 747.3L164.7 746.0L165.5 744.6L166.4 743.3L167.2 741.9L168.1 740.6L168.9 739.2L169.7 737.9L170.6 736.5L171.4 735.1L172.2 733.7L173.0 732.4L173.7 731.0L174.5 729.6L175.3 728.2L176.1 726.8L176.8 725.4L177.6 724.0L178.3 722.6L179.1 721.1L179.8 719.7L180.5 718.3L181.2 716.9L181.9 715.4L182.7 714.0L183.4 712.6L184.0 711.1L184.7 709.7L185.4 708.2L186.1 706.8L186.8 705.3L187.4 703.9L188.1 702.4L188.8 700.9L189.4 699.5L190.1 698.0L190.7 696.5L191.3 695.1L192.0 693.6L192.6 692.1L193.2 690.6L193.8 689.1L194.5 687.6L195.1 686.1L195.7 684.7L196.3 683.2L196.9 681.7L197.5 680.2L198.1 678.7L198.6 677.2L199.2 675.7L199.8 674.2L200.4 672.7L201.0 671.1L201.5 669.6L202.1 668.1L202.7 666.6L203.2 665.1L203.8 663.6L204.3 662.1L204.9 660.6L205.4 659.0L206.0 657.5L206.5 656.0L207.1 654.5L207.6 653.0L208.2 651.5L208.7 649.9L209.2 648.4L209.8 646.9L210.3 645.4L210.8 643.9L211.4 642.3L211.9 640.8L212.4 639.3L213.0 637.8L213.5 636.3L214.0 634.7L214.5 633.2L215.1 631.7L215.6 630.2L216.1 628.7L216.6 627.2L217.1 625.6L217.7 624.1L218.2 622.6L218.7 621.1L219.2 619.6L219.8 618.1L220.3 616.6L220.8 615.1L221.3 613.6L221.9 612.1L222.4 610.5L222.9 609.0L223.5 607.5L224.0 606.0L224.5 604.5L225.1 603.0L225.6 601.5L226.2 600.1L226.7 598.6L227.3 597.1L227.9 595.6L228.4 594.1L229.0 592.6L229.6 591.1L230.1 589.6L230.7 588.1L231.3 586.7L231.9 585.2L232.5 583.7L233.1 582.2L233.7 580.7L234.3 579.3L234.9 577.8L235.5 576.3L236.2 574.9L236.8 573.4L237.5 571.9L238.2 570.5L238.9 569.0L239.6 567.5L240.3 566.1L241.0 564.6L241.8 563.1L242.6 561.7L243.4 560.2L244.2 558.8L245.1 557.3L246.0 555.8L246.9 554.4L247.8 552.9L248.8 551.5L249.8 550.2L250.9 548.9L251.9 547.7L253.1 546.5L254.2 545.5L255.4 544.6L256.7 543.8L258.0 543.1L259.3 542.6L260.7 542.2L262.1 542.1L263.6 542.1L265.1 542.2L266.6 542.6L268.1 543.0L269.6 543.6L271.0 544.2L272.3 545.0L273.7 545.8L274.9 546.7L276.2 547.7L277.4 548.7L278.5 549.8L279.7 550.9L280.9 552.0L282.0 553.2L283.1 554.4L284.3 555.7L285.4 556.9L286.6 558.1L287.8 559.4L289.0 560.6L290.3 561.8L291.6 562.9L292.9 564.1L294.2 565.2L295.5 566.2L296.9 567.2L298.2 568.2L299.6 569.1L301.0 569.9L302.4 570.6L303.9 571.3L305.3 571.9L306.7 572.4L308.2 572.8L309.6 573.1L311.1 573.2L312.5 573.3L314.0 573.2L315.4 573.0L316.8 572.7L318.3 572.3L319.7 571.8L321.1 571.2L322.5 570.5L323.9 569.7L325.3 568.8L326.7 567.8L328.0 566.7L329.3 565.6L330.6 564.4L331.9 563.1L333.1 561.9L334.4 560.6L335.6 559.3L336.8 558.0L338.0 556.8L339.2 555.6L340.4 554.5L341.6 553.6L342.9 552.7L344.1 552.1L345.4 551.5L346.7 551.2L348.0 551.1L349.4 551.2L350.7 551.5L352.1 552.0L353.4 552.6L354.7 553.4L355.9 554.2L357.0 555.1L358.0 556.1L359.0 557.2L360.0 558.4L360.8 559.6L361.7 560.9L362.4 562.2L363.2 563.6L363.9 565.1L364.5 566.6L365.1 568.1L365.7 569.7L366.2 571.2L366.7 572.8L367.2 574.4L367.7 576.1L368.1 577.7L368.6 579.3L369.0 581.0L369.4 582.6L369.8 584.2L370.2 585.8L370.5 587.5L370.9 589.1L371.2 590.7L371.5 592.4L371.8 594.0L372.1 595.6L372.4 597.3L372.7 598.9L373.0 600.5L373.3 602.2L373.5 603.8L373.8 605.4L374.1 607.0L374.3 608.7L374.5 610.3L374.8 611.9L375.0 613.5L375.3 615.1L375.5 616.8L375.7 618.4L376.0 620.0L376.2 621.6L376.5 623.2L376.7 624.8L377.0 626.4L377.2 628.0L377.5 629.5L377.7 631.1L378.0 632.7L378.3 634.3L378.5 635.9L378.8 637.4L379.1 639.0L379.4 640.5L379.7 642.1L380.1 643.6L380.4 645.2L380.7 646.7L381.1 648.2L381.5 649.8L381.9 651.3L382.3 652.8L382.7 654.3L383.1 655.8L383.6 657.3L384.0 658.8L384.5 660.2L385.0 661.7L385.5 663.2L386.1 664.6L386.6 666.1L387.2 667.5L387.8 668.9L388.5 670.4L389.1 671.8L389.8 673.2L390.5 674.6L391.2 676.0L392.0 677.4L392.8 678.7L393.6 680.1L394.4 681.4L395.3 682.8L396.2 684.1L397.1 685.4L398.0 686.8L399.0 688.1L400.0 689.3L401.1 690.6L402.2 691.9L403.2 693.2L404.3 694.4L405.4 695.7L406.4 697.0L407.4 698.3L408.3 699.6L409.1 701.0L409.9 702.4L410.7 703.7L411.3 705.1L412.0 706.6L412.6 708.0L413.1 709.5L413.7 710.9L414.2 712.4L414.8 713.9L415.3 715.4L415.8 716.9L416.4 718.4L416.9 719.9L417.5 721.4L418.1 722.9L418.8 724.3L419.5 725.8L420.3 727.2L421.1 728.6L422.0 729.9L422.9 731.2L423.9 732.4L425.0 733.5L426.2 734.6L427.4 735.5L428.8 736.3L430.2 737.1L431.8 737.7L433.4 738.1L435.1 738.4L437.0 738.6" fill="none" stroke="#cecece" stroke-width="3.7" stroke-linejoin="round" stroke-linecap="butt"/>
<path d="M63 822.5L116.3 798.1L115.6 798.0L116.9 797.0L118.3 795.9L119.6 794.9L120.9 793.9L122.1 792.8L123.4 791.7L124.6 790.6L125.9 789.6L127.1 788.5L128.3 787.4L129.5 786.3L130.7 785.1L131.9 784.0L133.1 782.9L134.2 781.7L135.4 780.6L136.5 779.4L137.6 778.3L138.8 777.1L139.9 775.9L141.0 774.7L142.0 773.5L143.1 772.3L144.2 771.1L145.2 769.9L146.3 768.7L147.3 767.4L148.3 766.2L149.3 765.0L150.3 763.7L151.3 762.4L152.3 761.2L153.3 759.9L154.2 758.6L155.2 757.3L156.1 756.1L157.0 754.8L158.0 753.5L158.9 752.2L159.8 750.8L160.7 749.5L161.6 748.2L162.5 746.9L163.3 745.5L164.2 744.2L165.0 742.8L165.9 741.5L166.7 740.1L167.6 738.8L168.4 737.4L169.2 736.0L170.0 734.7L170.8 733.3L171.6 731.9L172.4 730.5L173.2 729.1L173.9 727.7L174.7 726.3L175.5 724.9L176.2 723.5L177.0 722.1L177.7 720.7L178.4 719.2L179.2 717.8L179.9 716.4L180.6 714.9L181.3 713.5L182.0 712.0L182.7 710.6L183.4 709.2L184.1 707.7L184.7 706.2L185.4 704.8L186.1 703.3L186.7 701.9L187.4 700.4L188.0 698.9L188.7 697.4L189.3 696.0L190.0 694.5L190.6 693.0L191.2 691.5L191.8 690.0L192.5 688.5L193.1 687.1L193.7 685.6L194.3 684.1L194.9 682.6L195.5 681.1L196.1 679.6L196.7 678.1L197.3 676.6L197.8 675.1L198.4 673.6L199.0 672.1L199.6 670.5L200.1 669.0L200.7 667.5L201.3 666.0L201.8 664.5L202.4 663.0L203.0 661.5L203.5 660.0L204.1 658.4L204.6 656.9L205.2 655.4L205.7 653.9L206.3 652.4L206.8 650.8L207.3 649.3L207.9 647.8L208.4 646.3L209.0 644.8L209.5 643.3L210.0 641.7L210.6 640.2L211.1 638.7L211.6 637.2L212.1 635.7L212.7 634.2L213.2 632.7L213.7 631.1L214.3 629.6L214.8 628.1L215.3 626.6L215.8 625.1L216.4 623.6L216.9 622.1L217.4 620.6L217.9 619.1L218.5 617.6L219.0 616.1L219.5 614.6L220.1 613.1L220.6 611.6L221.1 610.1L221.7 608.6L222.2 607.1L222.7 605.6L223.3 604.1L223.8 602.6L224.4 601.1L224.9 599.6L225.5 598.1L226.0 596.6L226.6 595.1L227.2 593.6L227.7 592.1L228.3 590.6L228.9 589.1L229.4 587.6L230.0 586.1L230.6 584.6L231.2 583.1L231.8 581.6L232.4 580.1L233.0 578.5L233.6 577.0L234.2 575.5L234.9 574.0L235.5 572.5L236.1 571.0L236.8 569.4L237.5 567.9L238.2 566.4L238.9 565.0L239.6 563.5L240.4 562.1L241.2 560.6L242.0 559.2L242.8 557.9L243.7 556.5L244.7 555.2L245.6 553.9L246.7 552.7L247.7 551.5L248.9 550.4L250.0 549.3L251.2 548.2L252.5 547.3L253.7 546.4L255.0 545.6L256.4 544.8L257.7 544.2L259.1 543.7L260.5 543.2L261.9 542.9L263.3 542.7L264.7 542.7L266.1 542.7L267.5 543.0L268.8 543.3L270.2 543.8L271.6 544.5L272.9 545.3L274.3 546.2L275.6 547.2L276.8 548.2L278.1 549.4L279.3 550.5L280.5 551.7L281.6 552.9L282.8 554.2L283.9 555.4L285.0 556.7L286.1 557.9L287.3 559.2L288.4 560.4L289.5 561.7L290.6 562.9L291.8 564.1L293.0 565.3L294.2 566.4L295.4 567.5L296.7 568.6L298.0 569.6L299.4 570.6L300.8 571.5L302.2 572.4L303.6 573.2L305.0 573.9L306.5 574.5L308.0 575.1L309.5 575.6L311.0 576.0L312.5 576.4L314.0 576.6L315.5 576.8L317.1 576.8L318.6 576.8L320.1 576.6L321.6 576.4L323.1 576.0L324.6 575.6L326.1 575.1L327.5 574.5L329.0 573.9L330.5 573.2L332.0 572.5L333.5 571.8L335.0 571.1L336.5 570.3L338.1 569.6L339.6 568.9L341.2 568.3L342.8 567.7L344.4 567.1L346.0 566.6L347.6 566.2L349.1 565.8L350.7 565.5L352.3 565.2L353.8 565.1L355.3 565.0L356.8 565.0L358.3 565.1L359.7 565.3L361.1 565.7L362.4 566.1L363.6 566.7L364.9 567.4L366.0 568.2L367.1 569.2L368.1 570.2L369.0 571.5L369.9 572.8L370.8 574.2L371.6 575.6L372.3 577.1L373.1 578.7L373.8 580.3L374.5 581.9L375.2 583.5L375.9 585.1L376.6 586.6L377.3 588.2L378.0 589.7L378.7 591.2L379.4 592.6L380.1 594.1L380.8 595.5L381.5 597.0L382.2 598.4L382.9 599.8L383.6 601.3L384.2 602.7L384.9 604.1L385.5 605.6L386.1 607.0L386.7 608.5L387.3 610.0L387.9 611.5L388.4 613.0L389.0 614.5L389.5 616.0L390.1 617.5L390.6 619.1L391.1 620.6L391.7 622.1L392.2 623.7L392.7 625.2L393.2 626.7L393.7 628.3L394.2 629.8L394.7 631.4L395.2 632.9L395.7 634.5L396.2 636.0L396.7 637.6L397.3 639.1L397.8 640.7L398.3 642.2L398.8 643.7L399.4 645.3L399.9 646.8L400.5 648.3L401.0 649.8L401.6 651.3L402.2 652.8L402.8 654.3L403.4 655.8L404.0 657.3L404.7 658.7L405.3 660.2L406.0 661.6L406.7 663.1L407.4 664.5L408.1 665.9L408.8 667.3L409.6 668.7L410.4 670.1L411.2 671.4L412.0 672.7L412.9 674.1L413.8 675.4L414.7 676.7L415.6 677.9L416.5 679.2L417.5 680.5L418.4 681.7L419.4 683.0L420.3 684.3L421.3 685.5L422.2 686.8L423.2 688.1L424.1 689.4L425.0 690.7L425.9 692.0L426.8 693.4L427.6 694.8L428.4 696.2L429.2 697.6L429.9 699.0L430.7 700.5L431.3 702.1L432.0 703.6L432.6 705.2L433.2 706.8L433.8 708.3L434.4 709.9L435.0 711.5L435.5 713.1L436.1 714.6L436.7 716.2L437.4 717.7L438.0 719.2L438.7 720.6L439.4 722.0L440.2 723.4L441.0 724.7L441.8 725.9L442.7 727.1L443.7 728.2L444.7 729.3L445.8 730.2L447.0 731.1L448.2 731.9L449.6 732.6L451.0 733.2L452.6 733.7L454.2 734.1L455.9 734.3" fill="none" stroke="#999999" stroke-width="3.7" stroke-linejoin="round" stroke-linecap="butt"/>
<path d="M56 824.5L114.9 797.7L114.8 797.6L116.1 796.6L117.3 795.6L118.5 794.5L119.8 793.5L121.0 792.4L122.2 791.4L123.4 790.3L124.6 789.2L125.7 788.1L126.9 787.0L128.1 785.9L129.2 784.8L130.4 783.6L131.5 782.5L132.6 781.3L133.8 780.2L134.9 779.0L136.0 777.9L137.1 776.7L138.2 775.5L139.2 774.3L140.3 773.1L141.4 771.9L142.4 770.7L143.5 769.5L144.5 768.3L145.5 767.1L146.5 765.8L147.5 764.6L148.5 763.3L149.5 762.1L150.5 760.8L151.5 759.5L152.5 758.3L153.4 757.0L154.4 755.7L155.3 754.4L156.3 753.1L157.2 751.8L158.1 750.5L159.0 749.2L160.0 747.8L160.8 746.5L161.7 745.2L162.6 743.8L163.5 742.5L164.4 741.2L165.2 739.8L166.1 738.4L166.9 737.1L167.8 735.7L168.6 734.3L169.4 733.0L170.2 731.6L171.0 730.2L171.8 728.8L172.6 727.4L173.4 726.0L174.2 724.6L175.0 723.2L175.7 721.8L176.5 720.4L177.2 718.9L178.0 717.5L178.7 716.1L179.4 714.6L180.1 713.2L180.8 711.8L181.5 710.3L182.2 708.9L182.9 707.4L183.6 706.0L184.3 704.5L185.0 703.1L185.6 701.6L186.3 700.1L186.9 698.7L187.6 697.2L188.2 695.7L188.8 694.3L189.5 692.8L190.1 691.3L190.7 689.8L191.3 688.3L191.9 686.9L192.5 685.4L193.1 683.9L193.7 682.4L194.2 680.9L194.8 679.4L195.4 677.9L196.0 676.4L196.5 674.9L197.1 673.4L197.6 671.9L198.2 670.4L198.8 668.9L199.3 667.4L199.8 665.9L200.4 664.3L200.9 662.8L201.5 661.3L202.0 659.8L202.5 658.3L203.1 656.8L203.6 655.3L204.1 653.7L204.6 652.2L205.2 650.7L205.7 649.2L206.2 647.7L206.7 646.1L207.2 644.6L207.8 643.1L208.3 641.6L208.8 640.1L209.3 638.6L209.8 637.0L210.4 635.5L210.9 634.0L211.4 632.5L211.9 631.0L212.5 629.4L213.0 627.9L213.5 626.4L214.0 624.9L214.6 623.4L215.1 621.9L215.6 620.3L216.2 618.8L216.7 617.3L217.2 615.8L217.8 614.3L218.3 612.8L218.9 611.3L219.4 609.8L220.0 608.3L220.5 606.8L221.1 605.3L221.6 603.8L222.2 602.3L222.8 600.8L223.4 599.3L223.9 597.8L224.5 596.3L225.1 594.8L225.7 593.3L226.3 591.8L226.9 590.4L227.5 588.9L228.1 587.4L228.8 585.9L229.4 584.4L230.0 583.0L230.6 581.5L231.3 580.0L231.9 578.5L232.5 577.1L233.2 575.6L233.8 574.1L234.4 572.6L235.1 571.2L235.7 569.7L236.4 568.2L237.0 566.7L237.7 565.2L238.3 563.8L238.9 562.3L239.6 560.8L240.3 559.4L241.0 557.9L241.8 556.5L242.6 555.1L243.5 553.8L244.5 552.4L245.5 551.2L246.6 550.0L247.8 548.8L249.0 547.7L250.3 546.7L251.6 545.7L253.0 544.9L254.5 544.1L255.9 543.4L257.4 542.9L258.9 542.4L260.4 542.1L261.9 541.9L263.4 541.9L264.9 542.0L266.4 542.2L267.9 542.6L269.3 543.2L270.7 543.9L272.0 544.8L273.4 545.8L274.6 546.9L275.9 548.1L277.1 549.3L278.3 550.6L279.5 551.8L280.6 553.1L281.7 554.3L282.8 555.6L283.9 556.8L284.9 558.1L285.9 559.3L286.9 560.6L287.9 561.8L288.9 563.1L289.8 564.3L290.8 565.6L291.7 566.8L292.7 568.1L293.6 569.3L294.5 570.6L295.4 571.9L296.3 573.2L297.2 574.4L298.1 575.7L299.0 577.0L299.9 578.3L300.8 579.6L301.7 580.9L302.6 582.3L303.5 583.6L304.4 584.9L305.3 586.3L306.3 587.6L307.2 589.0L308.2 590.3L309.2 591.6L310.2 592.9L311.2 594.2L312.3 595.5L313.4 596.7L314.5 597.9L315.6 599.0L316.8 600.1L318.0 601.1L319.3 602.1L320.6 603.0L321.9 603.8L323.3 604.5L324.7 605.2L326.2 605.8L327.8 606.2L329.3 606.6L330.9 606.9L332.6 607.0L334.2 607.0L335.8 606.8L337.3 606.5L338.8 605.9L340.2 605.2L341.6 604.4L343.0 603.5L344.3 602.5L345.6 601.5L346.9 600.4L348.2 599.4L349.5 598.4L350.8 597.4L352.2 596.5L353.5 595.6L354.8 594.7L356.1 593.8L357.5 593.0L358.8 592.1L360.1 591.3L361.4 590.4L362.7 589.6L364.0 588.7L365.4 587.9L366.8 587.2L368.2 586.4L369.6 585.7L371.2 585.0L372.7 584.4L374.4 583.8L376.1 583.4L377.8 583.0L379.5 582.7L381.1 582.5L382.8 582.5L384.4 582.6L385.8 582.9L387.2 583.3L388.6 583.9L389.8 584.7L390.9 585.6L392.0 586.6L393.0 587.7L393.9 588.9L394.8 590.3L395.6 591.7L396.4 593.1L397.1 594.7L397.7 596.3L398.3 597.9L398.9 599.5L399.4 601.2L399.9 602.8L400.4 604.5L400.8 606.1L401.2 607.7L401.6 609.4L402.0 611.0L402.3 612.5L402.6 614.1L403.0 615.7L403.3 617.3L403.6 618.8L403.8 620.4L404.1 621.9L404.4 623.5L404.7 625.0L405.0 626.5L405.2 628.1L405.5 629.6L405.8 631.1L406.1 632.7L406.4 634.2L406.8 635.7L407.1 637.3L407.4 638.8L407.8 640.3L408.1 641.9L408.5 643.4L408.9 645.0L409.2 646.5L409.6 648.1L410.0 649.6L410.4 651.2L410.8 652.7L411.2 654.3L411.6 655.8L412.0 657.4L412.4 659.0L412.9 660.5L413.3 662.1L413.7 663.6L414.1 665.2L414.6 666.8L415.0 668.4L415.4 669.9L415.8 671.5L416.3 673.1L416.7 674.7L417.1 676.3L417.5 677.8L418.0 679.4L418.4 681.0L418.8 682.6L419.2 684.2L419.7 685.7L420.2 687.3L420.8 688.8L421.5 690.2L422.2 691.5L423.1 692.8L424.2 694.0L425.4 695.1L426.7 696.0L428.2 696.7L429.8 697.1L431.4 697.3L432.9 697.5L434.1 698.1L435.1 699.3L435.9 700.9L436.6 702.5L437.3 704.2L438.2 705.6L439.2 706.6L440.5 707.1L441.8 706.9L443.1 706.4L444.4 706.0L445.5 706.3L446.5 707.1L447.4 708.4L448.1 709.9L448.7 711.5L449.2 713.1L449.5 714.8L449.9 716.5L450.2 718.3L450.5 720.0L450.9 721.7L451.3 723.4L451.8 724.9L452.4 726.4L453.1 727.8L454.0 729.0L455.1 730.0L456.4 730.8L457.8 731.4L459.2 731.5L460.4 731.0L461.5 730.2L462.5 729.1L463.4 727.7L464.3 726.1L465.1 724.4L465.8 722.7L466.4 721.0L467.1 719.4L467.7 717.9L468.3 716.4L468.8 715.0L469.4 713.6L469.9 712.2L470.4 710.8L470.8 709.4L471.3 707.9L471.8 706.3L472.2 704.8L472.7 703.2L473.2 701.6L473.7 700.0L474.3 698.4L474.9 696.9L475.5 695.3L476.2 693.9L477.0 692.4L477.8 691.1L478.7 689.8L479.6 688.7L480.7 688.1L481.8 688.5L482.9 689.7L483.8 691.4L484.4 693.2L484.5 694.8" fill="none" stroke="#646464" stroke-width="3.7" stroke-linejoin="round" stroke-linecap="butt"/>
<path d="M52 825.5L113.5 797.3L113.4 797.2L114.6 796.2L115.9 795.2L117.1 794.1L118.3 793.1L119.6 792.0L120.8 790.9L122.0 789.9L123.2 788.8L124.3 787.7L125.5 786.6L126.7 785.5L127.8 784.4L129.0 783.2L130.1 782.1L131.3 781.0L132.4 779.8L133.5 778.6L134.6 777.5L135.7 776.3L136.8 775.1L137.9 773.9L138.9 772.7L140.0 771.5L141.0 770.3L142.1 769.1L143.1 767.9L144.1 766.7L145.2 765.4L146.2 764.2L147.2 762.9L148.2 761.7L149.2 760.4L150.1 759.1L151.1 757.9L152.1 756.6L153.0 755.3L154.0 754.0L154.9 752.7L155.8 751.4L156.7 750.1L157.7 748.8L158.6 747.4L159.5 746.1L160.3 744.8L161.2 743.4L162.1 742.1L163.0 740.7L163.8 739.4L164.7 738.0L165.5 736.7L166.3 735.3L167.2 733.9L168.0 732.5L168.8 731.2L169.6 729.8L170.4 728.4L171.2 727.0L172.0 725.6L172.8 724.2L173.5 722.8L174.3 721.3L175.0 719.9L175.8 718.5L176.5 717.1L177.3 715.7L178.0 714.2L178.7 712.8L179.4 711.3L180.1 709.9L180.8 708.5L181.5 707.0L182.2 705.6L182.9 704.1L183.5 702.6L184.2 701.2L184.9 699.7L185.5 698.3L186.2 696.8L186.8 695.3L187.4 693.8L188.1 692.4L188.7 690.9L189.3 689.4L189.9 687.9L190.5 686.4L191.1 684.9L191.7 683.5L192.3 682.0L192.9 680.5L193.4 679.0L194.0 677.5L194.6 676.0L195.2 674.5L195.7 673.0L196.3 671.5L196.8 670.0L197.4 668.5L197.9 667.0L198.5 665.4L199.0 663.9L199.6 662.4L200.1 660.9L200.6 659.4L201.2 657.9L201.7 656.4L202.2 654.9L202.8 653.3L203.3 651.8L203.8 650.3L204.3 648.8L204.8 647.3L205.4 645.7L205.9 644.2L206.4 642.7L206.9 641.2L207.4 639.7L208.0 638.1L208.5 636.6L209.0 635.1L209.5 633.6L210.0 632.1L210.6 630.5L211.1 629.0L211.6 627.5L212.1 626.0L212.7 624.5L213.2 623.0L213.7 621.4L214.2 619.9L214.8 618.4L215.3 616.9L215.8 615.4L216.4 613.9L216.9 612.4L217.5 610.9L218.0 609.3L218.6 607.8L219.1 606.3L219.7 604.8L220.2 603.3L220.8 601.8L221.4 600.3L221.9 598.8L222.5 597.3L223.1 595.8L223.7 594.3L224.3 592.8L224.9 591.4L225.5 589.9L226.1 588.4L226.7 586.9L227.3 585.4L227.9 583.9L228.6 582.5L229.2 581.0L229.8 579.5L230.5 578.0L231.1 576.6L231.8 575.1L232.4 573.6L233.1 572.2L233.7 570.7L234.4 569.3L235.1 567.8L235.7 566.3L236.4 564.9L237.1 563.4L237.8 562.0L238.4 560.5L239.1 559.1L239.8 557.6L240.5 556.2L241.3 554.8L242.1 553.4L242.9 552.0L243.8 550.7L244.8 549.5L245.9 548.3L247.0 547.1L248.3 546.1L249.6 545.1L251.0 544.2L252.5 543.4L254.0 542.7L255.5 542.2L257.1 541.8L258.6 541.5L260.2 541.3L261.8 541.4L263.3 541.5L264.7 541.9L266.2 542.3L267.6 542.9L269.0 543.7L270.4 544.5L271.8 545.4L273.1 546.3L274.4 547.4L275.7 548.4L276.9 549.6L278.1 550.7L279.4 551.8L280.5 553.0L281.7 554.1L282.8 555.3L284.0 556.5L285.0 557.6L286.1 558.9L287.1 560.1L288.1 561.3L289.1 562.6L290.0 563.9L291.0 565.2L291.9 566.5L292.7 567.8L293.6 569.1L294.5 570.5L295.3 571.8L296.1 573.2L297.0 574.5L297.8 575.9L298.6 577.2L299.5 578.6L300.3 580.0L301.1 581.3L302.0 582.7L302.8 584.0L303.7 585.3L304.6 586.7L305.5 588.0L306.5 589.3L307.4 590.5L308.4 591.8L309.4 593.1L310.5 594.3L311.6 595.5L312.7 596.7L313.9 597.8L315.1 599.0L316.3 600.1L317.6 601.1L318.9 602.2L320.2 603.2L321.6 604.1L322.9 605.0L324.3 605.9L325.8 606.7L327.2 607.5L328.7 608.2L330.2 608.8L331.7 609.4L333.2 609.9L334.7 610.4L336.2 610.8L337.7 611.1L339.3 611.3L340.8 611.5L342.3 611.6L343.8 611.6L345.4 611.5L346.9 611.4L348.4 611.1L349.9 610.8L351.4 610.4L352.9 610.0L354.4 609.5L355.9 608.9L357.4 608.3L358.9 607.7L360.4 607.0L361.9 606.3L363.4 605.6L364.9 604.9L366.4 604.2L367.9 603.4L369.4 602.7L370.9 602.0L372.5 601.2L374.0 600.5L375.5 599.9L377.1 599.2L378.7 598.6L380.2 598.1L381.8 597.6L383.4 597.1L385.0 596.8L386.5 596.5L388.0 596.3L389.6 596.2L391.1 596.3L392.5 596.4L393.9 596.7L395.3 597.2L396.6 597.8L397.9 598.5L399.1 599.4L400.3 600.5L401.4 601.6L402.5 602.8L403.6 604.1L404.6 605.4L405.6 606.8L406.5 608.2L407.4 609.6L408.3 611.0L409.2 612.4L410.0 613.8L410.9 615.2L411.7 616.7L412.4 618.1L413.2 619.5L413.9 621.0L414.6 622.5L415.3 623.9L416.0 625.4L416.6 626.9L417.3 628.4L417.9 629.8L418.5 631.3L419.1 632.8L419.7 634.3L420.3 635.8L420.8 637.3L421.4 638.8L421.9 640.3L422.5 641.8L423.0 643.3L423.5 644.8L424.1 646.4L424.6 647.9L425.1 649.4L425.7 650.9L426.2 652.4L426.7 653.9L427.2 655.4L427.8 656.9L428.3 658.4L428.9 659.9L429.4 661.4L430.0 662.9L430.6 664.4L431.1 665.9L431.7 667.3L432.3 668.8L433.0 670.3L433.6 671.8L434.2 673.2L434.9 674.7L435.6 676.1L436.3 677.6L436.9 679.0L437.6 680.5L438.4 681.9L439.1 683.3L439.8 684.8L440.5 686.2L441.3 687.6L442.0 689.1L442.7 690.5L443.5 691.9L444.2 693.3L444.9 694.8L445.7 696.2L446.4 697.6L447.1 699.1L447.8 700.5L448.5 702.0L449.2 703.4L449.9 704.9L450.6 706.3L451.3 707.8L452.0 709.2L452.6 710.7L453.2 712.2L453.9 713.7L454.5 715.2L455.1 716.7L455.7 718.1L456.3 719.6L456.9 721.1L457.5 722.6L458.1 724.1L458.7 725.6L459.3 727.1L459.9 728.5L460.6 730.0L461.2 731.5L461.9 732.9L462.6 734.3L463.3 735.8L464.0 737.2L464.7 738.6L465.5 740.0L466.3 741.4L467.1 742.8L467.9 744.1L468.8 745.5L469.7 746.8L470.7 748.1L471.7 749.2L472.9 750.1L474.3 750.5L476.0 750.5L477.6 750.7L479.2 751.4L480.6 752.3L481.9 752.8L483.2 752.8L484.5 752.3L485.8 751.7L487.2 750.9L488.7 750.3L490.3 749.8L491.9 749.3L493.3 748.6L494.6 747.8L495.8 746.9L496.9 745.9L497.8 744.7L498.7 743.5L499.5 742.1L500.2 740.7L500.8 739.2L501.4 737.7L502.0 736.2L502.5 734.6L503.0 733.0L503.5 731.3L504.0 729.7L504.5 728.1L505.0 726.6L505.6 725.1L506.2 723.6L506.8 722.2L507.5 720.9L508.3 719.6" fill="none" stroke="#303030" stroke-width="3.7" stroke-linejoin="round" stroke-linecap="butt"/>
</g>
<path d="M73.26 838.2v-2.6M73.26 481.9v2.6M88.69 838.2v-2.6M88.69 481.9v2.6M100.66 838.2v-2.6M100.66 481.9v2.6M110.45 838.2v-2.6M110.45 481.9v2.6M118.72 838.2v-2.6M118.72 481.9v2.6M125.88 838.2v-2.6M125.88 481.9v2.6M132.2 838.2v-2.6M132.2 481.9v2.6M175.05 838.2v-2.6M175.05 481.9v2.6M196.8 838.2v-2.6M196.8 481.9v2.6M212.24 838.2v-2.6M212.24 481.9v2.6M224.21 838.2v-2.6M224.21 481.9v2.6M234 838.2v-2.6M234 481.9v2.6M242.27 838.2v-2.6M242.27 481.9v2.6M249.43 838.2v-2.6M249.43 481.9v2.6M255.75 838.2v-2.6M255.75 481.9v2.6M298.6 838.2v-2.6M298.6 481.9v2.6M320.35 838.2v-2.6M320.35 481.9v2.6M335.79 838.2v-2.6M335.79 481.9v2.6M347.76 838.2v-2.6M347.76 481.9v2.6M357.54 838.2v-2.6M357.54 481.9v2.6M365.81 838.2v-2.6M365.81 481.9v2.6M372.98 838.2v-2.6M372.98 481.9v2.6M379.3 838.2v-2.6M379.3 481.9v2.6M422.14 838.2v-2.6M422.14 481.9v2.6M443.9 838.2v-2.6M443.9 481.9v2.6M459.34 838.2v-2.6M459.34 481.9v2.6M471.31 838.2v-2.6M471.31 481.9v2.6M481.09 838.2v-2.6M481.09 481.9v2.6M489.36 838.2v-2.6M489.36 481.9v2.6M496.53 838.2v-2.6M496.53 481.9v2.6M502.85 838.2v-2.6M502.85 481.9v2.6M137.86 838.2v-4.6M137.86 481.9v4.6M261.4 838.2v-4.6M261.4 481.9v4.6M384.95 838.2v-4.6M384.95 481.9v4.6M51.5 778.82h4.6M508.5 778.82h-4.6M51.5 719.43h4.6M508.5 719.43h-4.6M51.5 660.05h4.6M508.5 660.05h-4.6M51.5 600.67h4.6M508.5 600.67h-4.6M51.5 541.28h4.6M508.5 541.28h-4.6" stroke="#262626" stroke-width="1.2" fill="none"/>
<rect x="51.5" y="481.9" width="457" height="356.3" fill="none" stroke="#262626" stroke-width="1.3"/>
<text x="45.2" y="845.2" text-anchor="end" class="tk">0</text>
<text x="45.2" y="785.82" text-anchor="end" class="tk">0.2</text>
<text x="45.2" y="726.43" text-anchor="end" class="tk">0.4</text>
<text x="45.2" y="667.05" text-anchor="end" class="tk">0.6</text>
<text x="45.2" y="607.67" text-anchor="end" class="tk">0.8</text>
<text x="45.2" y="548.28" text-anchor="end" class="tk">1</text>
<text x="45.2" y="488.9" text-anchor="end" class="tk">1.2</text>
<text x="137.86" y="864.7" text-anchor="middle" class="tk">10<tspan dy="-6.4" font-size="13">-1</tspan></text>
<text x="261.4" y="864.7" text-anchor="middle" class="tk">10<tspan dy="-6.4" font-size="13">0</tspan></text>
<text x="384.95" y="864.7" text-anchor="middle" class="tk">10<tspan dy="-6.4" font-size="13">1</tspan></text>
<text x="508.5" y="864.7" text-anchor="middle" class="tk">10<tspan dy="-6.4" font-size="13">2</tspan></text>
<g transform="translate(14.3 691.1) rotate(-90)"><text x="-0.63" y="0" font-size="17" class="it" textLength="7.07" lengthAdjust="spacingAndGlyphs">σ</text><text x="7.76" y="4.3" font-size="10.8" class="it" textLength="6.39" lengthAdjust="spacingAndGlyphs">u</text><text x="8.62" y="-5.97" font-size="11.91" textLength="6.55" lengthAdjust="spacingAndGlyphs">+</text><text x="19.4" y="2.76" font-size="24.48" textLength="7.17" lengthAdjust="spacingAndGlyphs">/</text><text x="27.07" y="0" font-size="17" class="it" textLength="7.07" lengthAdjust="spacingAndGlyphs">σ</text><text x="37.22" y="-5.97" font-size="11.91" textLength="6.55" lengthAdjust="spacingAndGlyphs">+</text><text x="34.56" y="4.3" font-size="10.8" class="it" textLength="6.39" lengthAdjust="spacingAndGlyphs">u</text><text x="41.47" y="4.3" font-size="10.5" textLength="20.3" lengthAdjust="spacingAndGlyphs">,m1</text></g>
<g transform="translate(246.9 883)"><text x="0.2" y="0" font-size="17" class="it" textLength="7.68" lengthAdjust="spacingAndGlyphs">z</text><text x="7.15" y="-1.49" font-size="14.89" textLength="9.58" lengthAdjust="spacingAndGlyphs">+</text><text x="17.9" y="4.36" font-size="23.88" textLength="8.08" lengthAdjust="spacingAndGlyphs">/</text><text x="26.5" y="0" font-size="17" class="it" textLength="7.68" lengthAdjust="spacingAndGlyphs">z</text><text x="33.46" y="-1.74" font-size="15.32" textLength="9.46" lengthAdjust="spacingAndGlyphs">+</text><text x="33.81" y="4.9" font-size="10.5" class="it" textLength="12.92" lengthAdjust="spacingAndGlyphs">σu</text><text x="46.3" y="4.9" font-size="10" textLength="19.23" lengthAdjust="spacingAndGlyphs">,m1</text></g>
<text x="275" y="913.2" text-anchor="middle" class="cap">(b)</text>
<rect x="222.4" y="660.5" width="159.6" height="128.3" fill="#fff"/>
<line x1="222.4" y1="737.48" x2="382" y2="737.48" stroke="#dddddd" stroke-width="1.1"/>
<line x1="222.4" y1="686.16" x2="382" y2="686.16" stroke="#dddddd" stroke-width="1.1"/>
<line x1="236.8" y1="660.5" x2="236.8" y2="788.8" stroke="#dddddd" stroke-width="1.1"/>
<line x1="285.6" y1="660.5" x2="285.6" y2="788.8" stroke="#bdbdbd" stroke-width="1" stroke-dasharray="1.15 2.3"/>
<line x1="334.4" y1="660.5" x2="334.4" y2="788.8" stroke="#bdbdbd" stroke-width="1" stroke-dasharray="1.15 2.3"/>
<clipPath id="iclipb"><rect x="222.4" y="660.5" width="159.6" height="128.3"/></clipPath>
<g clip-path="url(#iclipb)">
<path d="M222.3 772.0L223.9 771.1L225.4 770.3L226.9 769.4L228.4 768.5L229.8 767.6L231.2 766.7L232.5 765.8L233.8 764.9L235.0 763.9L236.2 763.0L237.4 762.0L238.5 760.9L239.6 759.9L240.7 758.8L241.7 757.7L242.7 756.5L243.6 755.3L244.6 754.1L245.5 752.8L246.4 751.5L247.3 750.1L248.1 748.7L248.9 747.2L249.7 745.6L250.5 744.0L251.3 742.4L252.1 740.7L252.8 739.1L253.6 737.4L254.4 735.8L255.3 734.2L256.2 732.7L257.1 731.4L258.0 730.1L259.0 728.9L260.1 727.9L261.3 727.1L262.5 726.5L263.9 726.1L265.3 725.9L266.8 725.9L268.3 726.0L269.9 726.3L271.5 726.7L273.1 727.3L274.7 727.8L276.3 728.5L277.9 729.1L279.4 729.8L281.0 730.5L282.4 731.1L283.9 731.6L285.4 732.1L286.8 732.4L288.3 732.6L289.8 732.7L291.3 732.5L292.8 732.2L294.4 731.6L296.0 730.9L297.6 730.1L299.2 729.2L300.8 728.5L302.4 727.9L303.9 727.4L305.4 727.3L306.8 727.5L308.2 728.1L309.5 729.0L310.6 730.2L311.5 731.5L312.3 732.9L312.9 734.5L313.4 736.1L313.8 737.8L314.1 739.5L314.4 741.2L314.7 742.9L315.1 744.6L315.5 746.3L316.0 747.9L316.6 749.4L317.3 750.9L318.1 752.3L318.9 753.6L319.8 755.0L320.8 756.2L321.9 757.4L323.0 758.5L324.2 759.6L325.4 760.6L326.7 761.6L328.0 762.5L329.4 763.3L330.9 764.1L332.4 764.8L333.9 765.5L335.4 766.1L337.0 766.7L338.6 767.2" fill="none" stroke="#cecece" stroke-width="3.4" stroke-linejoin="round" stroke-linecap="butt"/>
<path d="M222.3 772.5L223.8 771.9L225.3 771.1L226.7 770.4L228.2 769.6L229.6 768.7L230.9 767.8L232.2 766.9L233.5 765.9L234.8 764.8L236.0 763.8L237.3 762.7L238.4 761.5L239.6 760.3L240.7 759.1L241.8 757.9L242.8 756.7L243.8 755.4L244.8 754.1L245.8 752.8L246.7 751.4L247.6 750.1L248.5 748.7L249.3 747.4L250.1 746.0L250.9 744.6L251.6 743.2L252.4 741.8L253.1 740.4L253.7 738.9L254.4 737.5L255.0 736.0L255.7 734.5L256.3 732.9L256.9 731.4L257.5 729.8L258.1 728.1L258.7 726.4L259.4 724.8L260.0 723.1L260.7 721.5L261.5 719.9L262.3 718.4L263.2 717.0L264.1 715.7L265.1 714.5L266.3 713.5L267.5 712.6L268.8 711.9L270.1 711.4L271.6 711.0L273.0 710.7L274.5 710.7L276.0 710.8L277.5 711.0L279.0 711.4L280.4 711.9L281.9 712.6L283.3 713.3L284.8 714.1L286.2 715.0L287.7 715.8L289.1 716.6L290.6 717.3L292.2 717.9L293.7 718.3L295.3 718.6L296.9 718.7L298.6 718.7L300.3 718.6L302.0 718.3L303.6 718.1L305.3 717.8L306.9 717.6L308.5 717.4L310.1 717.3L311.6 717.4L313.0 717.7L314.3 718.2L315.5 718.8L316.7 719.7L317.8 720.7L318.9 721.9L319.9 723.1L320.8 724.5L321.7 725.9L322.6 727.4L323.4 729.0L324.2 730.5L325.0 732.1L325.8 733.6L326.6 735.1L327.3 736.6L328.1 738.0L328.9 739.4L329.7 740.8L330.5 742.2L331.3 743.5L332.2 744.8L333.1 746.1L334.1 747.4L335.1 748.6L336.1 749.7L337.3 750.9L338.4 752.0L339.7 753.1L340.9 754.2L342.1 755.3L343.4 756.4L344.6 757.5L345.8 758.6L347.0 759.8L348.1 761.0" fill="none" stroke="#999999" stroke-width="3.4" stroke-linejoin="round" stroke-linecap="butt"/>
<path d="M222.3 773.0L223.9 772.3L225.4 771.6L226.9 770.9L228.4 770.1L229.8 769.2L231.2 768.3L232.5 767.4L233.7 766.4L235.0 765.4L236.2 764.3L237.3 763.2L238.4 762.1L239.5 760.9L240.5 759.7L241.6 758.5L242.5 757.2L243.5 756.0L244.4 754.7L245.2 753.3L246.1 752.0L246.9 750.6L247.7 749.2L248.5 747.8L249.2 746.3L249.9 744.9L250.6 743.4L251.3 741.9L251.9 740.4L252.6 738.9L253.2 737.4L253.8 735.9L254.4 734.4L254.9 732.8L255.5 731.3L256.0 729.7L256.5 728.2L257.1 726.7L257.6 725.1L258.1 723.6L258.6 722.0L259.1 720.5L259.6 719.0L260.2 717.5L260.7 715.9L261.3 714.4L261.9 713.0L262.5 711.5L263.1 710.0L263.7 708.5L264.4 707.1L265.1 705.7L265.9 704.3L266.7 702.9L267.5 701.5L268.4 700.1L269.4 698.8L270.4 697.5L271.4 696.2L272.5 694.9L273.7 693.6L274.9 692.4L276.2 691.4L277.6 690.5L278.9 689.9L280.4 689.6L281.8 689.7L283.3 690.2L284.7 691.0L286.1 692.0L287.3 693.1L288.5 694.3L289.5 695.5L290.5 696.7L291.5 698.0L292.4 699.4L293.4 700.7L294.3 702.1L295.4 703.5L296.5 704.9L297.6 706.2L298.8 707.5L300.1 708.6L301.3 709.6L302.7 710.3L304.0 710.8L305.4 711.2L306.8 711.3L308.2 711.3L309.7 711.1L311.1 710.8L312.6 710.2L314.2 709.6L315.7 708.8L317.3 707.8L318.8 706.9L320.4 705.9L321.9 705.0L323.4 704.1L324.9 703.4L326.3 702.9L327.7 702.6L329.0 702.6L330.2 702.9L331.4 703.7L332.4 704.7L333.4 706.0L334.3 707.6L335.1 709.2L335.8 710.9L336.5 712.6L337.0 714.3L337.5 715.9L337.9 717.5L338.3 719.1L338.6 720.6L338.9 722.2L339.2 723.7L339.4 725.3L339.7 726.9L339.9 728.5L340.2 730.2L340.6 731.8L341.0 733.4L341.4 735.0L342.1 736.4L342.8 737.7L343.7 738.9L344.8 739.9L346.0 740.7L347.3 741.5L348.7 742.3L350.0 743.3L351.2 744.4L352.4 745.7L353.4 747.1L354.4 748.6L355.4 750.1L356.3 751.3L357.2 752.0L358.2 752.3L359.1 752.0L359.9 751.2L360.7 749.9L361.2 748.3L361.7 746.5L362.2 744.6L362.8 742.8L363.4 741.2L364.3 739.9L365.4 739.2L366.8 739.0" fill="none" stroke="#646464" stroke-width="3.4" stroke-linejoin="round" stroke-linecap="butt"/>
<path d="M222.3 776.0L223.8 775.2L225.2 774.4L226.6 773.5L227.9 772.6L229.3 771.7L230.6 770.8L231.8 769.8L233.1 768.8L234.3 767.7L235.5 766.6L236.7 765.6L237.8 764.4L238.9 763.3L240.0 762.1L241.1 760.9L242.1 759.7L243.1 758.5L244.1 757.2L245.1 756.0L246.0 754.7L247.0 753.4L247.9 752.0L248.8 750.7L249.6 749.3L250.5 748.0L251.3 746.6L252.1 745.2L252.9 743.8L253.7 742.3L254.4 740.9L255.1 739.4L255.8 738.0L256.5 736.5L257.2 735.0L257.9 733.6L258.5 732.1L259.2 730.6L259.8 729.1L260.4 727.6L261.0 726.1L261.6 724.6L262.2 723.0L262.8 721.5L263.3 720.0L263.9 718.5L264.5 717.0L265.0 715.4L265.6 713.9L266.2 712.4L266.7 710.9L267.3 709.4L267.9 707.9L268.5 706.4L269.1 704.9L269.7 703.4L270.3 701.9L271.0 700.5L271.6 699.0L272.3 697.5L273.0 696.1L273.7 694.6L274.4 693.2L275.2 691.8L276.0 690.4L276.8 689.0L277.6 687.6L278.5 686.3L279.3 684.9L280.3 683.6L281.2 682.3L282.2 680.9L283.2 679.7L284.3 678.5L285.5 677.5L286.7 676.8L288.0 676.3L289.5 676.2L291.0 676.4L292.5 676.9L294.0 677.6L295.5 678.5L296.8 679.5L298.0 680.6L299.1 681.8L300.1 683.1L301.1 684.4L302.1 685.8L303.0 687.2L304.0 688.6L305.0 690.0L306.0 691.4L307.1 692.8L308.2 694.1L309.3 695.4L310.5 696.6L311.7 697.7L313.0 698.8L314.3 699.7L315.6 700.4L317.0 701.1L318.4 701.5L319.8 701.8L321.3 701.9L322.8 701.8L324.4 701.5L325.9 701.0L327.5 700.3L329.1 699.6L330.7 698.9L332.3 698.2L333.9 697.5L335.5 697.0L337.0 696.6L338.5 696.4L340.0 696.5L341.4 696.8L342.8 697.3L344.0 698.1L345.1 699.2L346.0 700.4L346.8 701.8L347.5 703.3L348.1 704.9L348.7 706.6L349.3 708.3L349.9 709.9L350.5 711.5L351.1 712.9L351.8 714.4L352.5 715.8L353.2 717.2L353.8 718.6L354.5 719.9L355.2 721.3L355.8 722.8L356.4 724.3L357.0 725.8L357.6 727.3L358.1 728.8L358.7 730.4L359.2 732.0L359.7 733.6L360.3 735.1L360.8 736.7L361.4 738.3L362.0 739.8L362.6 741.4L363.2 742.9L363.9 744.4L364.6 745.8L365.4 747.2L366.1 748.6L367.0 749.9L367.9 751.1L368.8 752.3L369.8 753.5L370.9 754.5L372.0 755.5L373.3 756.2L374.6 756.7L376.0 756.9L377.6 756.5L379.2 755.6L381.0 754.0" fill="none" stroke="#303030" stroke-width="3.4" stroke-linejoin="round" stroke-linecap="butt"/>
</g>
<path d="M236.8 788.8v-3M236.8 660.5v3M285.6 788.8v-1.8M285.6 660.5v1.8M334.4 788.8v-1.8M334.4 660.5v1.8M222.4 737.48h3M382 737.48h-3M222.4 686.16h3M382 686.16h-3" stroke="#262626" stroke-width="1.1" fill="none"/>
<rect x="222.4" y="660.5" width="159.6" height="128.3" fill="none" stroke="#262626" stroke-width="1.3"/>
<text x="215.8" y="795.8" text-anchor="end" class="tk">0</text>
<text x="215.8" y="744.48" text-anchor="end" class="tk">1</text>
<text x="215.8" y="693.16" text-anchor="end" class="tk">2</text>
<text x="237.2" y="815.3" text-anchor="middle" class="tk">10<tspan dy="-6.4" font-size="13">0</tspan></text>
<g transform="translate(293.2 834)"><text x="0.2" y="0" font-size="17" class="it" textLength="7.68" lengthAdjust="spacingAndGlyphs">z</text><text x="7.28" y="-2.3" font-size="17.87" textLength="10.43" lengthAdjust="spacingAndGlyphs">+</text></g>
<g transform="translate(197.9 733.6) rotate(-90)"><text x="-0.63" y="0" font-size="17" class="it" textLength="7.07" lengthAdjust="spacingAndGlyphs">σ</text><text x="7.76" y="4.3" font-size="10.8" class="it" textLength="6.39" lengthAdjust="spacingAndGlyphs">u</text><text x="8.62" y="-5.97" font-size="11.91" textLength="6.55" lengthAdjust="spacingAndGlyphs">+</text></g>
<rect x="62.7" y="16.2" width="145.2" height="86.1" fill="#fff" stroke="#262626" stroke-width="1.2"/>
<line x1="67" y1="28.5" x2="108.7" y2="28.5" stroke="#cecece" stroke-width="2.9"/>
<text x="112.1" y="33.4" font-size="16" class="it" textLength="9.08" lengthAdjust="spacingAndGlyphs">x</text><text x="125.22" y="33.4" font-size="16" textLength="15.52" lengthAdjust="spacingAndGlyphs">=</text><text x="144.4" y="33.4" font-size="16" class="it" textLength="9.08" lengthAdjust="spacingAndGlyphs">x</text><text x="153.8" y="36.6" font-size="12" class="it" textLength="6.74" lengthAdjust="spacingAndGlyphs">a</text><text x="165.22" y="33.4" font-size="16" textLength="15.52" lengthAdjust="spacingAndGlyphs">+</text><text x="183.53" y="33.4" font-size="16" textLength="20.87" lengthAdjust="spacingAndGlyphs">0.1</text>
<line x1="67" y1="49.1" x2="108.7" y2="49.1" stroke="#999999" stroke-width="2.9"/>
<text x="112.1" y="54" font-size="16" class="it" textLength="9.08" lengthAdjust="spacingAndGlyphs">x</text><text x="125.22" y="54" font-size="16" textLength="15.52" lengthAdjust="spacingAndGlyphs">=</text><text x="143.95" y="54" font-size="16" textLength="20.29" lengthAdjust="spacingAndGlyphs">0.4</text>
<line x1="67" y1="69.9" x2="108.7" y2="69.9" stroke="#646464" stroke-width="2.9"/>
<text x="112.1" y="74.8" font-size="16" class="it" textLength="9.08" lengthAdjust="spacingAndGlyphs">x</text><text x="125.22" y="74.8" font-size="16" textLength="15.52" lengthAdjust="spacingAndGlyphs">=</text><text x="143.94" y="74.8" font-size="16" textLength="20.73" lengthAdjust="spacingAndGlyphs">0.5</text>
<line x1="67" y1="90.6" x2="108.7" y2="90.6" stroke="#303030" stroke-width="2.9"/>
<text x="112.1" y="95.5" font-size="16" class="it" textLength="9.08" lengthAdjust="spacingAndGlyphs">x</text><text x="125.22" y="95.5" font-size="16" textLength="15.52" lengthAdjust="spacingAndGlyphs">=</text><text x="143.94" y="95.5" font-size="16" textLength="20.55" lengthAdjust="spacingAndGlyphs">0.6</text>
<rect x="62.7" y="493.7" width="149.8" height="84.8" fill="#fff" stroke="#262626" stroke-width="1.2"/>
<line x1="67" y1="505.8" x2="108.7" y2="505.8" stroke="#cecece" stroke-width="2.9"/>
<text x="113.29" y="510.7" font-size="16" class="it" textLength="20.36" lengthAdjust="spacingAndGlyphs">Ra</text><text x="137" y="510.7" font-size="16" textLength="15.77" lengthAdjust="spacingAndGlyphs">=</text><text x="156.31" y="510.7" font-size="16" textLength="7.14" lengthAdjust="spacingAndGlyphs">1</text><text x="169.19" y="510.7" font-size="16" textLength="15.6" lengthAdjust="spacingAndGlyphs">×</text><text x="187.46" y="510.7" font-size="16" textLength="14.94" lengthAdjust="spacingAndGlyphs">10</text><text x="202.4" y="504.5" font-size="12" textLength="6.17" lengthAdjust="spacingAndGlyphs">7</text>
<line x1="67" y1="526.2" x2="108.7" y2="526.2" stroke="#999999" stroke-width="2.9"/>
<text x="113.29" y="531.1" font-size="16" class="it" textLength="20.36" lengthAdjust="spacingAndGlyphs">Ra</text><text x="137" y="531.1" font-size="16" textLength="15.77" lengthAdjust="spacingAndGlyphs">=</text><text x="155.58" y="531.1" font-size="16" textLength="8.5" lengthAdjust="spacingAndGlyphs">5</text><text x="169.19" y="531.1" font-size="16" textLength="15.6" lengthAdjust="spacingAndGlyphs">×</text><text x="187.46" y="531.1" font-size="16" textLength="14.94" lengthAdjust="spacingAndGlyphs">10</text><text x="202.4" y="524.9" font-size="12" textLength="6.17" lengthAdjust="spacingAndGlyphs">7</text>
<line x1="67" y1="546.8" x2="108.7" y2="546.8" stroke="#646464" stroke-width="2.9"/>
<text x="113.29" y="551.7" font-size="16" class="it" textLength="20.36" lengthAdjust="spacingAndGlyphs">Ra</text><text x="137" y="551.7" font-size="16" textLength="15.77" lengthAdjust="spacingAndGlyphs">=</text><text x="155.58" y="551.7" font-size="16" textLength="8.5" lengthAdjust="spacingAndGlyphs">5</text><text x="169.19" y="551.7" font-size="16" textLength="15.6" lengthAdjust="spacingAndGlyphs">×</text><text x="187.46" y="551.7" font-size="16" textLength="14.94" lengthAdjust="spacingAndGlyphs">10</text><text x="202.72" y="545.5" font-size="12" textLength="5.95" lengthAdjust="spacingAndGlyphs">8</text>
<line x1="67" y1="567.4" x2="108.7" y2="567.4" stroke="#303030" stroke-width="2.9"/>
<text x="113.29" y="572.3" font-size="16" class="it" textLength="20.36" lengthAdjust="spacingAndGlyphs">Ra</text><text x="137" y="572.3" font-size="16" textLength="15.77" lengthAdjust="spacingAndGlyphs">=</text><text x="155.58" y="572.3" font-size="16" textLength="8.5" lengthAdjust="spacingAndGlyphs">5</text><text x="169.19" y="572.3" font-size="16" textLength="15.6" lengthAdjust="spacingAndGlyphs">×</text><text x="187.46" y="572.3" font-size="16" textLength="14.94" lengthAdjust="spacingAndGlyphs">10</text><text x="202.85" y="566.1" font-size="12" textLength="5.81" lengthAdjust="spacingAndGlyphs">9</text>
</svg>
</body></html>
